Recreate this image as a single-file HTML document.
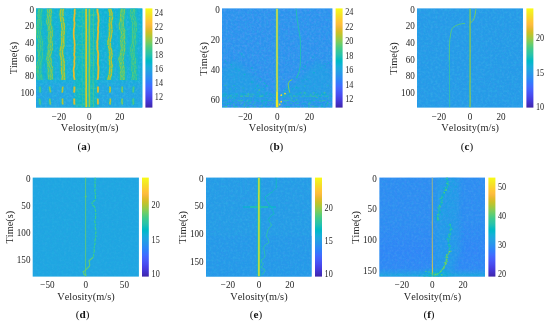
<!DOCTYPE html>
<html lang="en"><head><meta charset="utf-8"><title>Figure</title>
<style>html,body{margin:0;padding:0;background:#fff;}svg{display:block;}text{font-kerning:none;}.t{font-family:"Liberation Serif","DejaVu Serif",serif;font-size:10.4px;fill:#262626;}.cbt{font-family:"Liberation Serif","DejaVu Serif",serif;font-size:9.3px;fill:#262626;}.l{font-family:"Liberation Serif","DejaVu Serif",serif;font-size:10.3px;fill:#262626;}.c{font-family:"Liberation Serif","DejaVu Serif",serif;font-size:11.2px;fill:#111;}</style></head><body>
<svg width="550" height="325" viewBox="0 0 550 325">
<defs>
<linearGradient id="pg" x1="0" y1="1" x2="0" y2="0"><stop offset="0.0000" stop-color="#3e26a8"/><stop offset="0.0159" stop-color="#402ab4"/><stop offset="0.0317" stop-color="#422ec0"/><stop offset="0.0476" stop-color="#4332cb"/><stop offset="0.0635" stop-color="#4537d5"/><stop offset="0.0794" stop-color="#463cde"/><stop offset="0.0952" stop-color="#4741e5"/><stop offset="0.1111" stop-color="#4747eb"/><stop offset="0.1270" stop-color="#484df0"/><stop offset="0.1429" stop-color="#4852f4"/><stop offset="0.1587" stop-color="#4758f8"/><stop offset="0.1746" stop-color="#465efb"/><stop offset="0.1905" stop-color="#4563fd"/><stop offset="0.2063" stop-color="#4269fe"/><stop offset="0.2222" stop-color="#3e6fff"/><stop offset="0.2381" stop-color="#3875fe"/><stop offset="0.2540" stop-color="#327cfc"/><stop offset="0.2698" stop-color="#2f81fa"/><stop offset="0.2857" stop-color="#2e87f7"/><stop offset="0.3016" stop-color="#2d8cf3"/><stop offset="0.3175" stop-color="#2b91ef"/><stop offset="0.3333" stop-color="#2797eb"/><stop offset="0.3492" stop-color="#259be8"/><stop offset="0.3651" stop-color="#23a0e5"/><stop offset="0.3810" stop-color="#20a5e3"/><stop offset="0.3968" stop-color="#1ca9df"/><stop offset="0.4127" stop-color="#18addb"/><stop offset="0.4286" stop-color="#12b1d6"/><stop offset="0.4444" stop-color="#08b5d0"/><stop offset="0.4603" stop-color="#01b8ca"/><stop offset="0.4762" stop-color="#02bac3"/><stop offset="0.4921" stop-color="#0bbdbd"/><stop offset="0.5079" stop-color="#19bfb6"/><stop offset="0.5238" stop-color="#24c1ae"/><stop offset="0.5397" stop-color="#2cc4a7"/><stop offset="0.5556" stop-color="#31c69f"/><stop offset="0.5714" stop-color="#37c897"/><stop offset="0.5873" stop-color="#3fca8e"/><stop offset="0.6032" stop-color="#4acb84"/><stop offset="0.6190" stop-color="#57cc7a"/><stop offset="0.6349" stop-color="#64cd6f"/><stop offset="0.6508" stop-color="#72cd64"/><stop offset="0.6667" stop-color="#81cc59"/><stop offset="0.6825" stop-color="#8fcb4e"/><stop offset="0.6984" stop-color="#9dc943"/><stop offset="0.7143" stop-color="#abc739"/><stop offset="0.7302" stop-color="#b9c431"/><stop offset="0.7460" stop-color="#c5c22a"/><stop offset="0.7619" stop-color="#d1bf27"/><stop offset="0.7778" stop-color="#dcbd29"/><stop offset="0.7937" stop-color="#e6bb2d"/><stop offset="0.8095" stop-color="#f0ba36"/><stop offset="0.8254" stop-color="#f8ba3d"/><stop offset="0.8413" stop-color="#febe3c"/><stop offset="0.8571" stop-color="#fec338"/><stop offset="0.8730" stop-color="#fec934"/><stop offset="0.8889" stop-color="#fccf30"/><stop offset="0.9048" stop-color="#fad62d"/><stop offset="0.9206" stop-color="#f7dc2a"/><stop offset="0.9365" stop-color="#f5e327"/><stop offset="0.9524" stop-color="#f5e924"/><stop offset="0.9683" stop-color="#f6ef20"/><stop offset="0.9841" stop-color="#f7f51b"/><stop offset="1.0000" stop-color="#f9fb15"/></linearGradient>
<filter id="b1" x="-20%" y="-5%" width="140%" height="110%"><feGaussianBlur stdDeviation="0.45"/></filter>
<filter id="b2" x="-20%" y="-5%" width="140%" height="110%"><feGaussianBlur stdDeviation="0.8"/></filter>
<filter id="b3" x="-20%" y="-20%" width="140%" height="140%"><feGaussianBlur stdDeviation="2.5"/></filter>
<filter id="nz" x="0" y="0" width="100%" height="100%"><feTurbulence type="fractalNoise" baseFrequency="0.42" numOctaves="2" seed="3"/><feColorMatrix type="matrix" values="0 0 0 0 0.1  0 0 0 0 0.85  0 0 0 0 0.8  1.6 0 0 0 -0.62"/></filter>
<filter id="nd" x="0" y="0" width="100%" height="100%"><feTurbulence type="fractalNoise" baseFrequency="0.42" numOctaves="2" seed="11"/><feColorMatrix type="matrix" values="0 0 0 0 0.2  0 0 0 0 0.3  0 0 0 0 0.95  0 1.6 0 0 -0.62"/></filter>
</defs>
<clipPath id="cp_a"><rect x="36.00" y="8.40" width="106.40" height="99.20"/></clipPath>
<rect x="36.00" y="8.40" width="106.40" height="99.20" fill="#1caadf"/>
<rect x="145.40" y="8.40" width="7.00" height="99.20" fill="url(#pg)"/>
<g clip-path="url(#cp_a)">
<linearGradient id="ga" x1="0" y1="0" x2="0" y2="1"><stop offset="0" stop-color="#0eb3d4"/><stop offset="0.72" stop-color="#17aeda"/><stop offset="0.8" stop-color="#1fa6e2"/><stop offset="1" stop-color="#1fa6e2"/></linearGradient>
<rect x="36" y="8.40" width="106.4" height="99.20" fill="url(#ga)"/>
<rect x="74" y="8.4" width="24" height="99.2" fill="#07bcc0" opacity="0.85" filter="url(#b2)"/>
<rect x="76.4" y="40.4" width="10.9" height="0.9" fill="#25c2ae" opacity="0.54"/>
<rect x="74.9" y="44.5" width="9.6" height="0.9" fill="#23c1af" opacity="0.50"/>
<rect x="75.5" y="15.8" width="8.8" height="0.9" fill="#3eca8f" opacity="0.39"/>
<rect x="84.0" y="30.7" width="13.5" height="0.9" fill="#35c79a" opacity="0.49"/>
<rect x="74.7" y="103.7" width="12.7" height="0.9" fill="#2dc4a5" opacity="0.40"/>
<rect x="78.9" y="20.4" width="12.3" height="0.9" fill="#29c3aa" opacity="0.55"/>
<rect x="80.0" y="71.0" width="9.9" height="0.9" fill="#25c2ae" opacity="0.37"/>
<rect x="84.9" y="29.0" width="8.8" height="0.9" fill="#2ec4a4" opacity="0.55"/>
<rect x="78.8" y="53.0" width="12.1" height="0.9" fill="#39c994" opacity="0.44"/>
<rect x="82.4" y="64.7" width="12.9" height="0.9" fill="#3bc993" opacity="0.45"/>
<rect x="75.9" y="104.1" width="8.8" height="0.9" fill="#3cc992" opacity="0.40"/>
<rect x="74.6" y="56.4" width="11.0" height="0.9" fill="#3cc991" opacity="0.55"/>
<rect x="79.0" y="93.9" width="11.3" height="0.9" fill="#36c799" opacity="0.55"/>
<rect x="87.4" y="53.3" width="10.6" height="0.9" fill="#32c69e" opacity="0.58"/>
<rect x="85.2" y="14.9" width="10.8" height="0.9" fill="#47cb87" opacity="0.64"/>
<rect x="80.2" y="36.6" width="11.0" height="0.9" fill="#22c1af" opacity="0.51"/>
<rect x="75.9" y="25.3" width="5.5" height="0.9" fill="#3cc991" opacity="0.40"/>
<rect x="80.3" y="33.0" width="12.8" height="0.9" fill="#25c2ad" opacity="0.51"/>
<rect x="88.1" y="62.3" width="9.9" height="0.9" fill="#40ca8d" opacity="0.45"/>
<rect x="79.7" y="49.3" width="13.0" height="0.9" fill="#46cb88" opacity="0.40"/>
<rect x="77.7" y="26.1" width="7.1" height="0.9" fill="#33c69e" opacity="0.56"/>
<rect x="74.1" y="34.5" width="8.8" height="0.9" fill="#2fc5a2" opacity="0.55"/>
<rect x="85.0" y="101.5" width="9.6" height="0.9" fill="#36c898" opacity="0.59"/>
<rect x="88.4" y="14.2" width="9.6" height="0.9" fill="#41ca8c" opacity="0.63"/>
<rect x="80.4" y="47.1" width="5.9" height="0.9" fill="#37c897" opacity="0.37"/>
<rect x="77.3" y="15.5" width="6.5" height="0.9" fill="#2ec5a3" opacity="0.37"/>
<rect x="76.4" y="9.0" width="5.9" height="0.9" fill="#2fc5a3" opacity="0.36"/>
<rect x="83.8" y="93.8" width="6.3" height="0.9" fill="#2cc4a7" opacity="0.47"/>
<rect x="76.0" y="44.3" width="12.6" height="0.9" fill="#47cb87" opacity="0.51"/>
<rect x="75.4" y="55.9" width="5.9" height="0.9" fill="#2fc5a3" opacity="0.44"/>
<rect x="76.6" y="89.4" width="5.2" height="0.9" fill="#45cb89" opacity="0.53"/>
<rect x="82.7" y="23.2" width="5.2" height="0.9" fill="#34c79c" opacity="0.69"/>
<rect x="85.1" y="92.7" width="7.4" height="0.9" fill="#2fc5a2" opacity="0.41"/>
<rect x="82.5" y="83.9" width="12.0" height="0.9" fill="#2ec5a4" opacity="0.43"/>
<rect x="89.8" y="87.7" width="8.2" height="0.9" fill="#3eca90" opacity="0.64"/>
<rect x="77.6" y="80.8" width="9.7" height="0.9" fill="#2fc5a3" opacity="0.36"/>
<rect x="78.5" y="11.7" width="7.3" height="0.9" fill="#39c895" opacity="0.68"/>
<rect x="89.0" y="52.4" width="9.0" height="0.9" fill="#45cb88" opacity="0.48"/>
<rect x="36.00" y="8.40" width="106.40" height="99.20" filter="url(#nz)" opacity="0.30"/>
<rect x="36.00" y="8.40" width="106.40" height="99.20" filter="url(#nd)" opacity="0.25"/>
<g filter="url(#b1)">
<path d="M40.3 8.4 L40.1 9.7 L39.9 11.0 L39.9 12.3 L39.9 13.6 L39.9 14.9 L39.8 16.2 L39.8 17.5 L39.9 18.8 L39.6 20.1 L39.7 21.4 L39.8 22.7 L39.7 24.0 L39.5 25.3 L39.2 26.6 L38.8 27.9 L38.8 29.2 L38.5 30.5 L38.7 31.8 L38.9 33.1 L38.9 34.4 L39.0 35.7 L39.5 37.0 L39.8 38.3 L39.9 39.6 L39.9 40.9 L40.0 42.2 L40.4 43.5 L40.5 44.8 L40.2 46.1 L40.3 47.4 L40.4 48.7 L40.3 50.0 L40.1 51.3 L40.2 52.6 L40.1 53.9 L40.1 55.2 L40.5 56.5 L40.5 57.8 L40.4 59.1 L40.4 60.4 L40.0 61.7 L39.9 63.0 L39.6 64.3 L39.1 65.6 L38.8 66.9 L38.6 68.2 L38.6 69.5 L38.8 70.8 L38.8 72.1 L39.1 73.4 L39.2 74.7 L39.7 76.0 L39.8 77.3 L39.9 78.6 L40.1 79.9" fill="none" stroke="#12beb9" stroke-width="8.80" stroke-linecap="butt" stroke-linejoin="round" opacity="0.50"/>
<path d="M40.7 8.4 L40.3 9.7 L40.4 11.0 L40.1 12.3 L39.9 13.6 L39.8 14.9 L39.4 16.2 L39.5 17.5 L39.4 18.8 L39.3 20.1 L39.7 21.4 L39.4 22.7 L39.4 24.0 L39.4 25.3 L39.2 26.6 L38.8 27.9 L38.7 29.2 L38.6 30.5 L38.7 31.8 L38.4 33.1 L38.8 34.4 L38.9 35.7 L39.1 37.0 L39.7 38.3 L40.0 39.6 L40.2 40.9 L40.5 42.2 L40.7 43.5 L40.5 44.8 L40.4 46.1 L40.3 47.4 L40.2 48.7 L40.3 50.0 L40.2 51.3 L40.2 52.6 L40.3 53.9 L40.6 55.2 L40.7 56.5 L40.8 57.8 L40.8 59.1 L40.2 60.4 L40.0 61.7 L40.0 63.0 L39.8 64.3 L39.0 65.6 L38.6 66.9 L38.6 68.2 L38.4 69.5 L38.5 70.8 L38.5 72.1 L39.1 73.4 L39.6 74.7 L40.0 76.0 L39.8 77.3 L40.1 78.6 L40.2 79.9" fill="none" stroke="#21c1b0" stroke-width="4.80" stroke-linecap="butt" stroke-linejoin="round" opacity="0.80"/>
<path d="M38.2 8.4 L38.7 9.7 L38.9 11.0 L38.1 12.3 L38.5 13.6 L38.0 14.9 L37.9 16.2 L38.4 17.5 L38.5 18.8 L37.8 20.1 L37.8 21.4 L37.8 22.7 L37.5 24.0 L37.1 25.3 L36.9 26.6 L37.1 27.9 L36.4 29.2 L36.6 30.5 L36.6 31.8 L36.2 33.1 L36.5 34.4 L37.2 35.7 L37.5 37.0 L37.3 38.3 L38.4 39.6 L38.8 40.9 L39.2 42.2 L38.4 43.5 L38.2 44.8 L37.8 46.1 L38.4 47.4 L38.1 48.7 L37.8 50.0 L38.0 51.3 L38.7 52.6 L38.9 53.9 L38.5 55.2 L38.2 56.5 L38.9 57.8 L38.7 59.1 L38.7 60.4 L37.8 61.7 L37.3 63.0 L37.5 64.3 L37.2 65.6 L36.6 66.9 L37.2 68.2 L37.2 69.5 L37.5 70.8 L36.9 72.1 L37.7 73.4 L37.3 74.7 L38.1 76.0 L38.1 77.3 L38.0 78.6 L38.2 79.9" fill="none" stroke="#66cd6d" stroke-width="1.00" stroke-linecap="butt" stroke-linejoin="round" opacity="0.90" stroke-dasharray="5.1 0.5 4.6 0.5"/>
<path d="M40.0 8.4 L39.7 9.7 L39.3 11.0 L39.2 12.3 L39.3 13.6 L39.3 14.9 L39.8 16.2 L39.5 17.5 L39.6 18.8 L39.3 20.1 L39.4 21.4 L39.0 22.7 L38.9 24.0 L38.5 25.3 L39.0 26.6 L38.9 27.9 L38.4 29.2 L38.4 30.5 L38.9 31.8 L38.4 33.1 L39.0 34.4 L39.1 35.7 L39.3 37.0 L40.0 38.3 L40.0 39.6 L40.2 40.9 L40.5 42.2 L41.0 43.5 L40.4 44.8 L40.7 46.1 L40.6 47.4 L40.5 48.7 L40.2 50.0 L40.0 51.3 L39.6 52.6 L39.6 53.9 L39.6 55.2 L40.3 56.5 L40.1 57.8 L39.8 59.1 L39.5 60.4 L40.0 61.7 L40.1 63.0 L39.8 64.3 L39.1 65.6 L38.6 66.9 L38.4 68.2 L38.5 69.5 L38.3 70.8 L38.7 72.1 L38.8 73.4 L39.8 74.7 L40.3 76.0 L40.2 77.3 L39.8 78.6 L40.5 79.9" fill="none" stroke="#51cc7e" stroke-width="1.00" stroke-linecap="butt" stroke-linejoin="round" opacity="0.90" stroke-dasharray="5.4 0.4 4.1 0.7"/>
<path d="M42.2 8.4 L41.7 9.7 L41.7 11.0 L41.1 12.3 L41.1 13.6 L40.8 14.9 L41.1 16.2 L40.8 17.5 L40.7 18.8 L41.0 20.1 L41.0 21.4 L41.3 22.7 L41.3 24.0 L41.4 25.3 L41.2 26.6 L41.1 27.9 L41.1 29.2 L40.5 30.5 L40.2 31.8 L40.9 33.1 L40.4 34.4 L41.0 35.7 L41.4 37.0 L41.0 38.3 L41.9 39.6 L42.5 40.9 L42.5 42.2 L42.6 43.5 L42.7 44.8 L41.9 46.1 L42.0 47.4 L41.9 48.7 L42.3 50.0 L42.4 51.3 L42.6 52.6 L42.4 53.9 L42.7 55.2 L42.7 56.5 L42.6 57.8 L42.0 59.1 L41.4 60.4 L41.1 61.7 L41.0 63.0 L40.6 64.3 L41.0 65.6 L40.8 66.9 L40.8 68.2 L40.8 69.5 L40.9 70.8 L40.9 72.1 L40.5 73.4 L41.3 74.7 L41.8 76.0 L41.8 77.3 L41.9 78.6 L42.1 79.9" fill="none" stroke="#4acb85" stroke-width="1.00" stroke-linecap="butt" stroke-linejoin="round" opacity="0.90" stroke-dasharray="6.9 0.6 3.2 0.6"/>
<path d="M40.0 86.6 L39.8 88.1 L39.9 89.6 L40.1 91.1 L40.0 92.6" fill="none" stroke="#12beb9" stroke-width="3.60" stroke-linecap="butt" stroke-linejoin="round" opacity="0.50"/>
<path d="M39.8 86.6 L39.9 87.6 L40.0 88.6 L40.1 89.6 L40.0 90.6 L40.0 91.6 L39.7 92.6" fill="none" stroke="#58cc79" stroke-width="1.60" stroke-linecap="butt" stroke-linejoin="round" opacity="0.80"/>
<path d="M39.8 98.6 L39.8 100.1 L39.9 101.6 L39.8 103.1 L39.9 104.6" fill="none" stroke="#12beb9" stroke-width="3.60" stroke-linecap="butt" stroke-linejoin="round" opacity="0.50"/>
<path d="M39.6 98.6 L39.5 99.6 L39.6 100.6 L39.9 101.6 L40.0 102.6 L40.0 103.6 L39.8 104.6" fill="none" stroke="#58cc79" stroke-width="1.60" stroke-linecap="butt" stroke-linejoin="round" opacity="0.80"/>
<path d="M49.7 8.4 L49.7 9.7 L49.5 11.0 L49.7 12.3 L49.4 13.6 L49.5 14.9 L49.4 16.2 L48.8 17.5 L48.7 18.8 L48.8 20.1 L49.0 21.4 L49.0 22.7 L49.0 24.0 L49.2 25.3 L49.8 26.6 L49.9 27.9 L50.2 29.2 L50.3 30.5 L50.5 31.8 L50.7 33.1 L50.4 34.4 L50.5 35.7 L50.4 37.0 L50.5 38.3 L50.4 39.6 L50.1 40.9 L50.4 42.2 L50.3 43.5 L50.1 44.8 L50.0 46.1 L50.2 47.4 L50.1 48.7 L49.9 50.0 L49.6 51.3 L49.4 52.6 L49.1 53.9 L49.1 55.2 L48.7 56.5 L48.8 57.8 L49.0 59.1 L48.8 60.4 L49.3 61.7 L49.6 63.0 L49.9 64.3 L49.9 65.6 L50.0 66.9 L50.1 68.2 L50.5 69.5 L50.4 70.8 L50.2 72.1 L50.2 73.4 L50.1 74.7 L50.0 76.0 L50.0 77.3 L50.5 78.6 L50.5 79.9" fill="none" stroke="#12beb9" stroke-width="8.80" stroke-linecap="butt" stroke-linejoin="round" opacity="0.50"/>
<path d="M50.0 8.4 L49.7 9.7 L49.5 11.0 L49.5 12.3 L49.2 13.6 L49.1 14.9 L49.3 16.2 L49.3 17.5 L49.2 18.8 L49.0 20.1 L49.2 21.4 L49.4 22.7 L49.3 24.0 L49.6 25.3 L49.5 26.6 L50.1 27.9 L50.2 29.2 L50.6 30.5 L50.7 31.8 L50.5 33.1 L50.2 34.4 L50.6 35.7 L50.1 37.0 L50.1 38.3 L50.0 39.6 L50.0 40.9 L50.3 42.2 L50.7 43.5 L50.3 44.8 L50.5 46.1 L50.2 47.4 L50.2 48.7 L50.0 50.0 L49.5 51.3 L49.2 52.6 L48.9 53.9 L49.2 55.2 L48.9 56.5 L48.6 57.8 L49.0 59.1 L49.4 60.4 L49.3 61.7 L49.2 63.0 L49.3 64.3 L49.5 65.6 L49.8 66.9 L49.8 68.2 L49.9 69.5 L49.9 70.8 L50.1 72.1 L50.5 73.4 L50.5 74.7 L50.3 76.0 L50.3 77.3 L50.5 78.6 L50.6 79.9" fill="none" stroke="#41ca8c" stroke-width="4.80" stroke-linecap="butt" stroke-linejoin="round" opacity="0.80"/>
<path d="M47.7 8.4 L47.3 9.7 L47.3 11.0 L48.1 12.3 L47.3 13.6 L47.3 14.9 L47.4 16.2 L47.6 17.5 L46.8 18.8 L46.6 20.1 L46.5 21.4 L46.7 22.7 L47.0 24.0 L48.0 25.3 L48.5 26.6 L48.9 27.9 L48.2 29.2 L47.9 30.5 L48.7 31.8 L49.2 33.1 L48.9 34.4 L48.8 35.7 L48.0 37.0 L48.1 38.3 L48.7 39.6 L48.9 40.9 L49.1 42.2 L49.3 43.5 L48.6 44.8 L48.1 46.1 L47.9 47.4 L48.2 48.7 L48.4 50.0 L48.6 51.3 L48.3 52.6 L47.9 53.9 L47.7 55.2 L47.2 56.5 L47.1 57.8 L46.5 59.1 L47.3 60.4 L47.1 61.7 L48.0 63.0 L48.2 64.3 L48.0 65.6 L47.8 66.9 L47.9 68.2 L48.4 69.5 L48.7 70.8 L48.1 72.1 L47.7 73.4 L48.1 74.7 L48.4 76.0 L48.4 77.3 L48.3 78.6 L48.8 79.9" fill="none" stroke="#84cc56" stroke-width="1.00" stroke-linecap="butt" stroke-linejoin="round" opacity="0.90" stroke-dasharray="5.2 0.7 5.9 0.8"/>
<path d="M50.2 8.4 L49.9 9.7 L49.4 11.0 L49.2 12.3 L49.8 13.6 L49.7 14.9 L49.1 16.2 L48.3 17.5 L48.5 18.8 L48.8 20.1 L48.7 21.4 L48.5 22.7 L49.1 24.0 L49.9 25.3 L49.6 26.6 L49.4 27.9 L49.8 29.2 L50.1 30.5 L50.6 31.8 L50.2 33.1 L50.7 34.4 L50.8 35.7 L50.5 37.0 L50.0 38.3 L50.6 39.6 L50.2 40.9 L50.6 42.2 L50.1 43.5 L49.9 44.8 L50.5 46.1 L50.1 47.4 L50.7 48.7 L50.3 50.0 L49.5 51.3 L49.1 52.6 L49.0 53.9 L49.1 55.2 L49.4 56.5 L48.6 57.8 L48.6 59.1 L48.5 60.4 L49.5 61.7 L49.1 63.0 L49.0 64.3 L49.1 65.6 L49.6 66.9 L50.5 68.2 L50.8 69.5 L50.8 70.8 L51.1 72.1 L51.1 73.4 L50.4 74.7 L50.0 76.0 L50.8 77.3 L51.0 78.6 L50.3 79.9" fill="none" stroke="#9cc944" stroke-width="1.00" stroke-linecap="butt" stroke-linejoin="round" opacity="0.90" stroke-dasharray="5.5 0.6 4.0 0.5"/>
<path d="M50.9 8.4 L51.0 9.7 L51.1 11.0 L51.8 12.3 L51.0 13.6 L51.5 14.9 L50.7 16.2 L50.5 17.5 L50.9 18.8 L51.0 20.1 L50.7 21.4 L50.2 22.7 L50.6 24.0 L50.9 25.3 L51.9 26.6 L51.6 27.9 L51.8 29.2 L52.6 30.5 L51.9 31.8 L52.1 33.1 L52.6 34.4 L52.7 35.7 L51.8 37.0 L51.3 38.3 L51.1 39.6 L52.1 40.9 L51.8 42.2 L52.3 43.5 L52.7 44.8 L52.2 46.1 L51.9 47.4 L52.5 48.7 L52.2 50.0 L51.5 51.3 L51.6 52.6 L50.9 53.9 L50.5 55.2 L49.9 56.5 L50.6 57.8 L51.1 59.1 L51.1 60.4 L51.7 61.7 L50.9 63.0 L51.0 64.3 L51.5 65.6 L52.3 66.9 L52.8 68.2 L52.3 69.5 L51.9 70.8 L51.9 72.1 L51.9 73.4 L52.5 74.7 L51.9 76.0 L52.4 77.3 L52.7 78.6 L53.0 79.9" fill="none" stroke="#a0c941" stroke-width="1.00" stroke-linecap="butt" stroke-linejoin="round" opacity="0.90" stroke-dasharray="6.4 0.6 4.0 0.6"/>
<path d="M50.1 86.6 L49.9 88.1 L49.8 89.6 L50.0 91.1 L49.9 92.6" fill="none" stroke="#12beb9" stroke-width="3.60" stroke-linecap="butt" stroke-linejoin="round" opacity="0.50"/>
<path d="M49.7 86.6 L49.6 87.6 L49.9 88.6 L49.9 89.6 L50.3 90.6 L50.4 91.6 L50.4 92.6" fill="none" stroke="#96ca48" stroke-width="1.60" stroke-linecap="butt" stroke-linejoin="round" opacity="0.80"/>
<path d="M49.9 98.6 L49.8 100.1 L49.7 101.6 L49.8 103.1 L50.0 104.6" fill="none" stroke="#12beb9" stroke-width="3.60" stroke-linecap="butt" stroke-linejoin="round" opacity="0.50"/>
<path d="M50.0 98.6 L49.8 99.6 L49.9 100.6 L50.0 101.6 L50.1 102.6 L50.2 103.6 L50.3 104.6" fill="none" stroke="#96ca48" stroke-width="1.60" stroke-linecap="butt" stroke-linejoin="round" opacity="0.80"/>
<path d="M61.9 8.4 L62.0 9.7 L61.7 11.0 L61.6 12.3 L61.4 13.6 L61.5 14.9 L61.4 16.2 L61.5 17.5 L61.7 18.8 L61.9 20.1 L62.5 21.4 L62.8 22.7 L63.0 24.0 L63.1 25.3 L63.4 26.6 L63.3 27.9 L63.1 29.2 L63.2 30.5 L63.1 31.8 L63.1 33.1 L62.8 34.4 L62.8 35.7 L62.9 37.0 L63.0 38.3 L63.2 39.6 L62.8 40.9 L62.8 42.2 L62.6 43.5 L62.4 44.8 L62.4 46.1 L62.1 47.4 L62.0 48.7 L61.6 50.0 L61.6 51.3 L61.4 52.6 L61.4 53.9 L61.7 55.2 L62.0 56.5 L62.0 57.8 L62.4 59.1 L62.6 60.4 L62.7 61.7 L62.8 63.0 L62.8 64.3 L62.7 65.6 L62.7 66.9 L62.8 68.2 L62.9 69.5 L62.8 70.8 L62.7 72.1 L62.9 73.4 L63.2 74.7 L63.2 76.0 L63.3 77.3 L63.3 78.6 L63.4 79.9" fill="none" stroke="#12beb9" stroke-width="7.40" stroke-linecap="butt" stroke-linejoin="round" opacity="0.50"/>
<path d="M62.1 8.4 L61.7 9.7 L61.4 11.0 L61.3 12.3 L61.4 13.6 L61.5 14.9 L61.2 16.2 L61.3 17.5 L61.8 18.8 L62.1 20.1 L62.3 21.4 L62.6 22.7 L63.2 24.0 L63.1 25.3 L63.3 26.6 L63.2 27.9 L63.1 29.2 L63.3 30.5 L63.3 31.8 L63.0 33.1 L62.7 34.4 L62.9 35.7 L62.7 37.0 L62.5 38.3 L63.0 39.6 L62.9 40.9 L63.1 42.2 L62.8 43.5 L62.8 44.8 L62.4 46.1 L61.9 47.4 L61.4 48.7 L61.5 50.0 L61.5 51.3 L61.7 52.6 L61.3 53.9 L61.6 55.2 L61.8 56.5 L62.1 57.8 L62.1 59.1 L62.4 60.4 L62.7 61.7 L63.1 63.0 L62.8 64.3 L62.9 65.6 L63.0 66.9 L63.2 68.2 L62.8 69.5 L62.7 70.8 L63.1 72.1 L63.5 73.4 L63.4 74.7 L63.2 76.0 L63.6 77.3 L63.4 78.6 L63.6 79.9" fill="none" stroke="#68cd6b" stroke-width="3.68" stroke-linecap="butt" stroke-linejoin="round" opacity="0.80"/>
<path d="M61.0 8.4 L61.1 9.7 L60.4 11.0 L60.6 12.3 L60.1 13.6 L60.1 14.9 L60.6 16.2 L60.9 17.5 L60.6 18.8 L60.6 20.1 L61.0 21.4 L61.5 22.7 L61.7 24.0 L61.6 25.3 L61.6 26.6 L62.1 27.9 L62.4 29.2 L61.7 30.5 L61.7 31.8 L61.9 33.1 L61.3 34.4 L61.8 35.7 L61.4 37.0 L61.7 38.3 L61.8 39.6 L61.9 40.9 L61.6 42.2 L61.5 43.5 L61.4 44.8 L61.1 46.1 L61.0 47.4 L60.7 48.7 L60.4 50.0 L59.8 51.3 L60.1 52.6 L60.2 53.9 L60.2 55.2 L60.8 56.5 L61.3 57.8 L61.3 59.1 L61.2 60.4 L61.5 61.7 L61.3 63.0 L61.2 64.3 L61.5 65.6 L61.2 66.9 L61.4 68.2 L61.6 69.5 L61.2 70.8 L61.7 72.1 L61.5 73.4 L62.1 74.7 L62.5 76.0 L62.4 77.3 L61.9 78.6 L62.0 79.9" fill="none" stroke="#bac430" stroke-width="1.20" stroke-linecap="butt" stroke-linejoin="round" opacity="0.95" stroke-dasharray="7.8 0.6 5.6 1.2"/>
<path d="M63.5 8.4 L63.5 9.7 L62.8 11.0 L63.1 12.3 L62.8 13.6 L63.1 14.9 L63.3 16.2 L62.7 17.5 L63.3 18.8 L63.8 20.1 L63.4 21.4 L63.7 22.7 L64.3 24.0 L64.1 25.3 L64.7 26.6 L64.3 27.9 L64.6 29.2 L64.0 30.5 L64.0 31.8 L64.4 33.1 L63.8 34.4 L63.7 35.7 L63.8 37.0 L63.8 38.3 L63.5 39.6 L63.5 40.9 L63.4 42.2 L64.1 43.5 L64.0 44.8 L64.0 46.1 L63.1 47.4 L63.2 48.7 L62.5 50.0 L62.5 51.3 L62.6 52.6 L62.5 53.9 L63.1 55.2 L63.2 56.5 L63.4 57.8 L64.0 59.1 L63.6 60.4 L64.3 61.7 L64.4 63.0 L64.1 64.3 L64.4 65.6 L64.0 66.9 L64.5 68.2 L64.3 69.5 L64.0 70.8 L64.4 72.1 L64.3 73.4 L64.1 74.7 L64.6 76.0 L64.2 77.3 L64.7 78.6 L64.3 79.9" fill="none" stroke="#c0c32d" stroke-width="1.20" stroke-linecap="butt" stroke-linejoin="round" opacity="0.95" stroke-dasharray="7.9 0.9 5.0 0.7"/>
<path d="M62.5 86.6 L62.4 88.1 L62.4 89.6 L62.5 91.1 L62.5 92.6" fill="none" stroke="#12beb9" stroke-width="3.60" stroke-linecap="butt" stroke-linejoin="round" opacity="0.50"/>
<path d="M62.6 86.6 L62.8 87.6 L62.5 88.6 L62.4 89.6 L62.6 90.6 L62.3 91.6 L62.2 92.6" fill="none" stroke="#c1c32d" stroke-width="1.60" stroke-linecap="butt" stroke-linejoin="round" opacity="0.95"/>
<path d="M62.6 98.6 L62.5 100.1 L62.5 101.6 L62.4 103.1 L62.5 104.6" fill="none" stroke="#12beb9" stroke-width="3.60" stroke-linecap="butt" stroke-linejoin="round" opacity="0.50"/>
<path d="M62.7 98.6 L62.4 99.6 L62.6 100.6 L62.6 101.6 L62.4 102.6 L62.8 103.6 L62.5 104.6" fill="none" stroke="#c1c32d" stroke-width="1.60" stroke-linecap="butt" stroke-linejoin="round" opacity="0.95"/>
<path d="M74.7 8.4 L74.8 9.7 L74.8 11.0 L74.7 12.3 L74.5 13.6 L74.4 14.9 L74.2 16.2 L74.3 17.5 L74.3 18.8 L74.3 20.1 L74.3 21.4 L74.3 22.7 L74.4 24.0 L74.3 25.3 L74.2 26.6 L74.1 27.9 L73.9 29.2 L73.8 30.5 L73.6 31.8 L73.5 33.1 L73.5 34.4 L73.6 35.7 L73.6 37.0 L73.8 38.3 L74.1 39.6 L74.2 40.9 L74.3 42.2 L74.5 43.5 L74.6 44.8 L74.6 46.1 L74.7 47.4 L74.5 48.7 L74.5 50.0 L74.4 51.3 L74.4 52.6 L74.5 53.9 L74.6 55.2 L74.6 56.5 L74.6 57.8 L74.7 59.1 L74.7 60.4 L74.6 61.7 L74.6 63.0 L74.4 64.3 L74.2 65.6 L73.9 66.9 L73.8 68.2 L73.6 69.5 L73.6 70.8 L73.6 72.1 L73.7 73.4 L73.8 74.7 L74.0 76.0 L74.0 77.3 L74.2 78.6 L74.2 79.9" fill="none" stroke="#12beb9" stroke-width="4.55" stroke-linecap="butt" stroke-linejoin="round" opacity="0.50"/>
<path d="M74.9 8.4 L74.8 9.7 L74.6 11.0 L74.7 12.3 L74.8 13.6 L74.4 14.9 L74.5 16.2 L74.2 17.5 L74.1 18.8 L74.1 20.1 L74.3 21.4 L74.6 22.7 L74.5 24.0 L74.3 25.3 L74.4 26.6 L74.1 27.9 L73.8 29.2 L73.9 30.5 L73.8 31.8 L73.7 33.1 L73.7 34.4 L73.9 35.7 L73.8 37.0 L74.1 38.3 L74.2 39.6 L74.5 40.9 L74.4 42.2 L74.6 43.5 L74.7 44.8 L74.6 46.1 L74.4 47.4 L74.6 48.7 L74.3 50.0 L74.6 51.3 L74.4 52.6 L74.2 53.9 L74.2 55.2 L74.6 56.5 L74.6 57.8 L74.5 59.1 L74.3 60.4 L74.2 61.7 L74.5 63.0 L74.4 64.3 L74.3 65.6 L74.2 66.9 L73.7 68.2 L73.7 69.5 L73.6 70.8 L73.8 72.1 L73.9 73.4 L74.0 74.7 L73.8 76.0 L74.2 77.3 L74.4 78.6 L74.6 79.9" fill="none" stroke="#e7bb2e" stroke-width="1.75" stroke-linecap="butt" stroke-linejoin="round"/>
<path d="M74.2 86.6 L74.2 88.1 L74.2 89.6 L74.2 91.1 L74.3 92.6" fill="none" stroke="#12beb9" stroke-width="3.60" stroke-linecap="butt" stroke-linejoin="round" opacity="0.50"/>
<path d="M74.4 86.6 L74.4 87.6 L74.4 88.6 L74.4 89.6 L74.3 90.6 L74.2 91.6 L74.1 92.6" fill="none" stroke="#e7bb2e" stroke-width="1.90" stroke-linecap="butt" stroke-linejoin="round" opacity="0.95"/>
<path d="M74.3 98.6 L74.3 100.1 L74.3 101.6 L74.3 103.1 L74.2 104.6" fill="none" stroke="#12beb9" stroke-width="3.60" stroke-linecap="butt" stroke-linejoin="round" opacity="0.50"/>
<path d="M74.2 98.6 L74.2 99.6 L74.3 100.6 L74.3 101.6 L74.2 102.6 L74.4 103.6 L74.3 104.6" fill="none" stroke="#e7bb2e" stroke-width="1.90" stroke-linecap="butt" stroke-linejoin="round" opacity="0.95"/>
<path d="M97.4 8.4 L97.4 9.7 L97.5 11.0 L97.7 12.3 L97.9 13.6 L98.1 14.9 L98.3 16.2 L98.4 17.5 L98.4 18.8 L98.5 20.1 L98.4 21.4 L98.4 22.7 L98.3 24.0 L98.1 25.3 L98.1 26.6 L98.1 27.9 L98.2 29.2 L98.1 30.5 L98.1 31.8 L98.1 33.1 L98.2 34.4 L98.1 35.7 L98.0 37.0 L97.9 38.3 L97.8 39.6 L97.6 40.9 L97.5 42.2 L97.3 43.5 L97.2 44.8 L97.3 46.1 L97.3 47.4 L97.4 48.7 L97.6 50.0 L97.7 51.3 L97.9 52.6 L98.1 53.9 L98.2 55.2 L98.3 56.5 L98.2 57.8 L98.2 59.1 L98.1 60.4 L98.2 61.7 L98.1 63.0 L98.2 64.3 L98.1 65.6 L98.1 66.9 L98.2 68.2 L98.4 69.5 L98.4 70.8 L98.3 72.1 L98.4 73.4 L98.1 74.7 L98.0 76.0 L97.8 77.3 L97.7 78.6 L97.5 79.9" fill="none" stroke="#12beb9" stroke-width="4.70" stroke-linecap="butt" stroke-linejoin="round" opacity="0.50"/>
<path d="M97.5 8.4 L97.4 9.7 L97.5 11.0 L97.5 12.3 L98.0 13.6 L98.2 14.9 L98.4 16.2 L98.3 17.5 L98.4 18.8 L98.6 20.1 L98.6 21.4 L98.3 22.7 L98.2 24.0 L98.4 25.3 L98.1 26.6 L98.0 27.9 L97.9 29.2 L98.1 30.5 L98.3 31.8 L98.1 33.1 L97.9 34.4 L97.9 35.7 L97.8 37.0 L97.8 38.3 L97.6 39.6 L97.4 40.9 L97.2 42.2 L97.5 43.5 L97.4 44.8 L97.2 46.1 L97.5 47.4 L97.3 48.7 L97.5 50.0 L97.9 51.3 L98.1 52.6 L98.3 53.9 L98.2 55.2 L98.1 56.5 L98.2 57.8 L98.0 59.1 L97.9 60.4 L98.0 61.7 L97.8 63.0 L98.0 64.3 L98.2 65.6 L98.4 66.9 L98.4 68.2 L98.4 69.5 L98.4 70.8 L98.2 72.1 L98.3 73.4 L98.1 74.7 L98.1 76.0 L98.1 77.3 L97.7 78.6 L97.5 79.9" fill="none" stroke="#e7bb2e" stroke-width="1.90" stroke-linecap="butt" stroke-linejoin="round"/>
<path d="M97.9 86.6 L97.9 88.1 L97.9 89.6 L97.9 91.1 L98.0 92.6" fill="none" stroke="#12beb9" stroke-width="3.60" stroke-linecap="butt" stroke-linejoin="round" opacity="0.50"/>
<path d="M98.0 86.6 L98.0 87.6 L98.0 88.6 L98.0 89.6 L98.0 90.6 L97.9 91.6 L97.8 92.6" fill="none" stroke="#e7bb2e" stroke-width="1.90" stroke-linecap="butt" stroke-linejoin="round" opacity="0.95"/>
<path d="M97.9 98.6 L97.9 100.1 L97.9 101.6 L97.9 103.1 L97.9 104.6" fill="none" stroke="#12beb9" stroke-width="3.60" stroke-linecap="butt" stroke-linejoin="round" opacity="0.50"/>
<path d="M97.9 98.6 L97.8 99.6 L97.9 100.6 L97.9 101.6 L97.9 102.6 L97.9 103.6 L97.9 104.6" fill="none" stroke="#e7bb2e" stroke-width="1.90" stroke-linecap="butt" stroke-linejoin="round" opacity="0.95"/>
<path d="M109.5 8.4 L109.9 9.7 L110.4 11.0 L110.6 12.3 L110.8 13.6 L111.2 14.9 L111.0 16.2 L111.1 17.5 L111.0 18.8 L111.0 20.1 L111.0 21.4 L110.8 22.7 L110.5 24.0 L110.5 25.3 L110.5 26.6 L110.6 27.9 L110.6 29.2 L110.6 30.5 L110.7 31.8 L110.5 33.1 L110.3 34.4 L110.2 35.7 L109.8 37.0 L109.6 38.3 L109.3 39.6 L109.3 40.9 L109.0 42.2 L109.2 43.5 L109.2 44.8 L109.3 46.1 L109.5 47.4 L109.8 48.7 L110.0 50.0 L110.3 51.3 L110.5 52.6 L110.7 53.9 L110.6 55.2 L110.5 56.5 L110.4 57.8 L110.5 59.1 L110.7 60.4 L110.6 61.7 L110.5 63.0 L110.8 64.3 L110.8 65.6 L110.7 66.9 L110.7 68.2 L110.8 69.5 L110.8 70.8 L110.6 72.1 L110.2 73.4 L109.9 74.7 L109.5 76.0 L109.5 77.3 L109.1 78.6 L109.1 79.9" fill="none" stroke="#12beb9" stroke-width="7.20" stroke-linecap="butt" stroke-linejoin="round" opacity="0.50"/>
<path d="M109.9 8.4 L110.2 9.7 L110.3 11.0 L110.5 12.3 L110.8 13.6 L110.8 14.9 L111.2 16.2 L111.1 17.5 L111.3 18.8 L110.9 20.1 L110.7 21.4 L110.5 22.7 L110.4 24.0 L110.2 25.3 L110.1 26.6 L110.4 27.9 L110.4 29.2 L110.3 30.5 L110.3 31.8 L110.3 33.1 L110.2 34.4 L110.1 35.7 L109.9 37.0 L109.5 38.3 L109.6 39.6 L109.5 40.9 L109.0 42.2 L109.2 43.5 L109.5 44.8 L109.7 46.1 L109.6 47.4 L110.1 48.7 L110.4 50.0 L110.2 51.3 L110.2 52.6 L110.8 53.9 L110.8 55.2 L110.5 56.5 L110.3 57.8 L110.2 59.1 L110.2 60.4 L110.6 61.7 L110.5 63.0 L110.4 64.3 L110.9 65.6 L111.1 66.9 L110.8 68.2 L111.0 69.5 L110.8 70.8 L110.7 72.1 L110.4 73.4 L110.2 74.7 L109.9 76.0 L109.7 77.3 L109.1 78.6 L109.2 79.9" fill="none" stroke="#68cd6b" stroke-width="3.52" stroke-linecap="butt" stroke-linejoin="round" opacity="0.80"/>
<path d="M108.6 8.4 L109.1 9.7 L109.2 11.0 L109.8 12.3 L110.0 13.6 L109.8 14.9 L109.7 16.2 L109.6 17.5 L109.8 18.8 L109.3 20.1 L109.4 21.4 L109.1 22.7 L109.2 24.0 L109.3 25.3 L109.4 26.6 L109.7 27.9 L109.1 29.2 L109.6 30.5 L109.4 31.8 L109.4 33.1 L109.4 34.4 L109.4 35.7 L108.8 37.0 L108.4 38.3 L108.7 39.6 L107.8 40.9 L108.0 42.2 L108.1 43.5 L107.7 44.8 L108.2 46.1 L108.7 47.4 L109.4 48.7 L109.2 50.0 L109.8 51.3 L109.7 52.6 L109.7 53.9 L110.0 55.2 L109.3 56.5 L109.6 57.8 L109.6 59.1 L109.3 60.4 L109.7 61.7 L109.5 63.0 L109.6 64.3 L109.7 65.6 L110.0 66.9 L109.6 68.2 L109.6 69.5 L109.4 70.8 L109.4 72.1 L109.4 73.4 L108.7 74.7 L108.8 76.0 L108.3 77.3 L108.1 78.6 L107.7 79.9" fill="none" stroke="#bdc32f" stroke-width="1.20" stroke-linecap="butt" stroke-linejoin="round" opacity="0.95" stroke-dasharray="7.9 1.0 5.4 0.7"/>
<path d="M110.6 8.4 L110.8 9.7 L111.3 11.0 L111.8 12.3 L112.3 13.6 L111.8 14.9 L112.3 16.2 L112.7 17.5 L112.4 18.8 L111.7 20.1 L111.6 21.4 L111.1 22.7 L111.1 24.0 L111.7 25.3 L111.8 26.6 L111.8 27.9 L112.0 29.2 L112.2 30.5 L112.0 31.8 L111.8 33.1 L111.6 34.4 L111.5 35.7 L111.2 37.0 L111.0 38.3 L110.3 39.6 L110.4 40.9 L110.2 42.2 L110.5 43.5 L110.0 44.8 L110.1 46.1 L110.1 47.4 L111.0 48.7 L111.7 50.0 L111.9 51.3 L111.7 52.6 L112.1 53.9 L112.2 55.2 L112.0 56.5 L111.5 57.8 L111.4 59.1 L111.4 60.4 L111.4 61.7 L111.5 63.0 L111.8 64.3 L112.3 65.6 L111.7 66.9 L111.9 68.2 L111.5 69.5 L111.2 70.8 L111.6 72.1 L111.4 73.4 L111.4 74.7 L110.8 76.0 L110.0 77.3 L109.9 78.6 L110.1 79.9" fill="none" stroke="#c7c12a" stroke-width="1.20" stroke-linecap="butt" stroke-linejoin="round" opacity="0.95" stroke-dasharray="7.9 0.8 4.2 0.6"/>
<path d="M110.1 86.6 L110.0 88.1 L110.0 89.6 L109.9 91.1 L109.8 92.6" fill="none" stroke="#12beb9" stroke-width="3.60" stroke-linecap="butt" stroke-linejoin="round" opacity="0.50"/>
<path d="M110.2 86.6 L109.9 87.6 L110.3 88.6 L109.9 89.6 L110.3 90.6 L109.9 91.6 L109.8 92.6" fill="none" stroke="#c1c32d" stroke-width="1.60" stroke-linecap="butt" stroke-linejoin="round" opacity="0.95"/>
<path d="M110.2 98.6 L110.1 100.1 L110.1 101.6 L110.0 103.1 L109.9 104.6" fill="none" stroke="#12beb9" stroke-width="3.60" stroke-linecap="butt" stroke-linejoin="round" opacity="0.50"/>
<path d="M110.3 98.6 L110.3 99.6 L110.4 100.6 L110.3 101.6 L109.9 102.6 L110.1 103.6 L110.2 104.6" fill="none" stroke="#c1c32d" stroke-width="1.60" stroke-linecap="butt" stroke-linejoin="round" opacity="0.95"/>
<path d="M122.7 8.4 L122.5 9.7 L122.7 11.0 L122.7 12.3 L122.3 13.6 L122.0 14.9 L122.1 16.2 L122.1 17.5 L121.6 18.8 L121.4 20.1 L121.4 21.4 L121.2 22.7 L121.5 24.0 L121.6 25.3 L121.6 26.6 L121.9 27.9 L122.4 29.2 L122.6 30.5 L123.0 31.8 L122.9 33.1 L123.2 34.4 L123.1 35.7 L123.1 37.0 L123.0 38.3 L122.8 39.6 L122.7 40.9 L122.8 42.2 L123.0 43.5 L123.0 44.8 L123.0 46.1 L122.8 47.4 L122.6 48.7 L122.9 50.0 L122.8 51.3 L122.6 52.6 L122.2 53.9 L121.9 55.2 L121.8 56.5 L121.6 57.8 L121.4 59.1 L121.1 60.4 L121.2 61.7 L121.5 63.0 L121.6 64.3 L121.9 65.6 L122.2 66.9 L122.5 68.2 L122.7 69.5 L122.5 70.8 L122.3 72.1 L122.3 73.4 L122.3 74.7 L122.4 76.0 L122.6 77.3 L122.8 78.6 L122.5 79.9" fill="none" stroke="#12beb9" stroke-width="8.80" stroke-linecap="butt" stroke-linejoin="round" opacity="0.50"/>
<path d="M122.7 8.4 L122.8 9.7 L122.9 11.0 L122.7 12.3 L122.4 13.6 L122.5 14.9 L122.5 16.2 L122.2 17.5 L122.1 18.8 L121.6 20.1 L121.1 21.4 L121.3 22.7 L121.6 24.0 L121.4 25.3 L121.9 26.6 L122.5 27.9 L122.4 29.2 L122.7 30.5 L123.1 31.8 L123.1 33.1 L122.9 34.4 L122.8 35.7 L123.1 37.0 L123.2 38.3 L122.9 39.6 L122.5 40.9 L122.8 42.2 L123.0 43.5 L122.7 44.8 L122.8 46.1 L123.1 47.4 L123.3 48.7 L123.0 50.0 L122.7 51.3 L122.5 52.6 L122.0 53.9 L121.6 55.2 L121.2 56.5 L121.3 57.8 L121.1 59.1 L121.2 60.4 L121.1 61.7 L121.3 63.0 L121.3 64.3 L121.4 65.6 L122.2 66.9 L122.2 68.2 L122.1 69.5 L122.5 70.8 L122.7 72.1 L122.3 73.4 L122.5 74.7 L122.3 76.0 L122.4 77.3 L122.1 78.6 L122.1 79.9" fill="none" stroke="#3bc992" stroke-width="4.80" stroke-linecap="butt" stroke-linejoin="round" opacity="0.80"/>
<path d="M121.3 8.4 L121.4 9.7 L121.0 11.0 L120.9 12.3 L120.4 13.6 L120.7 14.9 L120.3 16.2 L120.7 17.5 L120.5 18.8 L120.4 20.1 L120.4 21.4 L119.6 22.7 L119.1 24.0 L119.2 25.3 L119.3 26.6 L119.5 27.9 L119.7 29.2 L120.5 30.5 L121.4 31.8 L121.3 33.1 L121.9 34.4 L122.0 35.7 L121.0 37.0 L121.1 38.3 L120.9 39.6 L120.4 40.9 L121.2 42.2 L120.8 43.5 L121.0 44.8 L121.2 46.1 L121.7 47.4 L121.5 48.7 L121.1 50.0 L120.8 51.3 L120.2 52.6 L120.7 53.9 L120.8 55.2 L119.8 56.5 L119.0 57.8 L118.9 59.1 L118.9 60.4 L119.7 61.7 L120.2 63.0 L120.5 64.3 L119.8 65.6 L120.5 66.9 L120.8 68.2 L120.9 69.5 L121.4 70.8 L120.5 72.1 L120.2 73.4 L120.7 74.7 L121.2 76.0 L121.1 77.3 L120.7 78.6 L120.9 79.9" fill="none" stroke="#96ca48" stroke-width="1.00" stroke-linecap="butt" stroke-linejoin="round" opacity="0.90" stroke-dasharray="4.4 0.6 3.8 0.5"/>
<path d="M122.5 8.4 L122.1 9.7 L122.0 11.0 L121.8 12.3 L122.3 13.6 L121.7 14.9 L122.1 16.2 L121.6 17.5 L121.0 18.8 L121.7 20.1 L121.2 21.4 L121.8 22.7 L122.0 24.0 L122.3 25.3 L121.7 26.6 L122.0 27.9 L121.9 29.2 L123.0 30.5 L123.4 31.8 L123.4 33.1 L123.2 34.4 L123.0 35.7 L123.4 37.0 L123.0 38.3 L123.0 39.6 L122.4 40.9 L122.2 42.2 L122.0 43.5 L122.7 44.8 L122.8 46.1 L122.4 47.4 L123.1 48.7 L122.6 50.0 L122.4 51.3 L121.9 52.6 L121.6 53.9 L122.0 55.2 L121.5 56.5 L120.9 57.8 L121.0 59.1 L120.8 60.4 L121.6 61.7 L121.1 63.0 L122.0 64.3 L121.5 65.6 L122.4 66.9 L122.6 68.2 L122.2 69.5 L122.4 70.8 L122.2 72.1 L122.1 73.4 L121.9 74.7 L122.0 76.0 L122.9 77.3 L123.3 78.6 L123.5 79.9" fill="none" stroke="#7ecc5b" stroke-width="1.00" stroke-linecap="butt" stroke-linejoin="round" opacity="0.90" stroke-dasharray="5.2 0.9 3.2 0.8"/>
<path d="M124.0 8.4 L124.8 9.7 L123.9 11.0 L124.5 12.3 L124.1 13.6 L123.6 14.9 L123.1 16.2 L123.8 17.5 L123.6 18.8 L123.0 20.1 L123.0 21.4 L123.6 22.7 L123.1 24.0 L123.4 25.3 L123.2 26.6 L123.3 27.9 L124.3 29.2 L124.8 30.5 L124.5 31.8 L124.2 33.1 L124.1 34.4 L124.7 35.7 L124.7 37.0 L124.4 38.3 L124.1 39.6 L124.5 40.9 L124.7 42.2 L125.0 43.5 L124.9 44.8 L124.4 46.1 L124.0 47.4 L124.7 48.7 L124.5 50.0 L124.7 51.3 L123.8 52.6 L124.1 53.9 L123.5 55.2 L123.7 56.5 L123.8 57.8 L123.3 59.1 L122.5 60.4 L123.3 61.7 L123.3 63.0 L123.9 64.3 L123.6 65.6 L123.5 66.9 L124.3 68.2 L124.2 69.5 L123.9 70.8 L124.0 72.1 L124.3 73.4 L123.6 74.7 L124.0 76.0 L124.1 77.3 L124.3 78.6 L123.9 79.9" fill="none" stroke="#95ca49" stroke-width="1.00" stroke-linecap="butt" stroke-linejoin="round" opacity="0.90" stroke-dasharray="7.3 0.9 4.0 0.8"/>
<path d="M122.2 86.6 L122.3 88.1 L122.1 89.6 L122.3 91.1 L122.4 92.6" fill="none" stroke="#12beb9" stroke-width="3.60" stroke-linecap="butt" stroke-linejoin="round" opacity="0.50"/>
<path d="M122.2 86.6 L122.2 87.6 L122.2 88.6 L122.2 89.6 L121.9 90.6 L122.4 91.6 L122.1 92.6" fill="none" stroke="#8dcb4f" stroke-width="1.60" stroke-linecap="butt" stroke-linejoin="round" opacity="0.80"/>
<path d="M122.1 98.6 L122.0 100.1 L122.0 101.6 L122.2 103.1 L122.0 104.6" fill="none" stroke="#12beb9" stroke-width="3.60" stroke-linecap="butt" stroke-linejoin="round" opacity="0.50"/>
<path d="M121.9 98.6 L122.3 99.6 L122.0 100.6 L121.8 101.6 L122.2 102.6 L122.2 103.6 L122.2 104.6" fill="none" stroke="#8dcb4f" stroke-width="1.60" stroke-linecap="butt" stroke-linejoin="round" opacity="0.80"/>
<path d="M133.1 8.4 L133.2 9.7 L133.0 11.0 L132.6 12.3 L132.5 13.6 L132.7 14.9 L132.9 16.2 L133.0 17.5 L133.2 18.8 L133.6 20.1 L133.8 21.4 L134.2 22.7 L134.6 24.0 L134.4 25.3 L134.5 26.6 L134.5 27.9 L134.2 29.2 L134.2 30.5 L134.3 31.8 L134.0 33.1 L133.9 34.4 L134.1 35.7 L134.1 37.0 L134.0 38.3 L134.2 39.6 L134.2 40.9 L133.8 42.2 L133.5 43.5 L133.3 44.8 L133.0 46.1 L133.0 47.4 L132.8 48.7 L132.7 50.0 L132.7 51.3 L132.8 52.6 L132.6 53.9 L132.8 55.2 L133.3 56.5 L133.6 57.8 L133.6 59.1 L133.7 60.4 L133.9 61.7 L133.9 63.0 L133.9 64.3 L133.6 65.6 L133.7 66.9 L133.7 68.2 L133.6 69.5 L133.6 70.8 L134.1 72.1 L134.3 73.4 L134.5 74.7 L134.4 76.0 L134.5 77.3 L134.4 78.6 L134.2 79.9" fill="none" stroke="#12beb9" stroke-width="8.80" stroke-linecap="butt" stroke-linejoin="round" opacity="0.50"/>
<path d="M133.0 8.4 L133.0 9.7 L132.7 11.0 L132.8 12.3 L132.6 13.6 L132.8 14.9 L133.2 16.2 L133.4 17.5 L133.4 18.8 L133.7 20.1 L134.0 21.4 L134.6 22.7 L134.4 24.0 L134.4 25.3 L134.5 26.6 L134.2 27.9 L134.2 29.2 L134.4 30.5 L134.2 31.8 L133.9 33.1 L133.9 34.4 L133.9 35.7 L133.8 37.0 L133.7 38.3 L133.6 39.6 L133.6 40.9 L133.6 42.2 L133.4 43.5 L133.1 44.8 L132.7 46.1 L132.7 47.4 L132.8 48.7 L132.6 50.0 L132.5 51.3 L132.6 52.6 L132.5 53.9 L132.9 55.2 L133.1 56.5 L133.4 57.8 L133.7 59.1 L133.8 60.4 L133.7 61.7 L133.7 63.0 L133.6 64.3 L133.7 65.6 L133.7 66.9 L133.8 68.2 L133.5 69.5 L133.6 70.8 L134.1 72.1 L134.0 73.4 L134.2 74.7 L134.2 76.0 L134.1 77.3 L134.4 78.6 L133.9 79.9" fill="none" stroke="#21c1b0" stroke-width="4.80" stroke-linecap="butt" stroke-linejoin="round" opacity="0.80"/>
<path d="M131.7 8.4 L131.0 9.7 L130.5 11.0 L131.1 12.3 L130.9 13.6 L130.5 14.9 L130.8 16.2 L131.1 17.5 L131.8 18.8 L131.6 20.1 L131.8 21.4 L132.8 22.7 L133.0 24.0 L132.5 25.3 L132.4 26.6 L132.3 27.9 L132.5 29.2 L132.5 30.5 L132.7 31.8 L132.7 33.1 L132.4 34.4 L132.5 35.7 L132.6 37.0 L132.7 38.3 L132.4 39.6 L132.5 40.9 L132.4 42.2 L132.5 43.5 L131.5 44.8 L131.7 46.1 L130.6 47.4 L130.9 48.7 L130.8 50.0 L130.7 51.3 L131.2 52.6 L131.1 53.9 L131.1 55.2 L131.6 56.5 L132.1 57.8 L132.2 59.1 L132.0 60.4 L132.0 61.7 L132.0 63.0 L132.3 64.3 L131.9 65.6 L131.8 66.9 L131.9 68.2 L131.9 69.5 L131.8 70.8 L132.4 72.1 L132.8 73.4 L132.6 74.7 L132.5 76.0 L132.1 77.3 L132.0 78.6 L131.6 79.9" fill="none" stroke="#5acc77" stroke-width="1.00" stroke-linecap="butt" stroke-linejoin="round" opacity="0.90" stroke-dasharray="6.3 0.5 5.8 0.6"/>
<path d="M133.6 8.4 L133.6 9.7 L133.6 11.0 L132.8 12.3 L132.7 13.6 L133.2 14.9 L132.6 16.2 L132.5 17.5 L133.2 18.8 L133.7 20.1 L134.5 21.4 L134.8 22.7 L134.7 24.0 L135.2 25.3 L134.8 26.6 L134.6 27.9 L134.6 29.2 L134.2 30.5 L133.9 31.8 L134.0 33.1 L133.8 34.4 L134.4 35.7 L134.4 37.0 L134.2 38.3 L133.7 39.6 L133.7 40.9 L133.6 42.2 L133.6 43.5 L133.4 44.8 L133.6 46.1 L133.5 47.4 L132.9 48.7 L132.5 50.0 L132.6 51.3 L133.1 52.6 L132.7 53.9 L132.9 55.2 L133.5 56.5 L133.2 57.8 L133.3 59.1 L134.2 60.4 L134.4 61.7 L134.1 63.0 L133.6 64.3 L134.1 65.6 L134.1 66.9 L134.3 68.2 L134.6 69.5 L134.6 70.8 L134.2 72.1 L133.8 73.4 L133.8 74.7 L134.1 76.0 L134.2 77.3 L133.8 78.6 L133.4 79.9" fill="none" stroke="#5ccc76" stroke-width="1.00" stroke-linecap="butt" stroke-linejoin="round" opacity="0.90" stroke-dasharray="6.4 0.6 6.0 0.8"/>
<path d="M134.6 8.4 L134.6 9.7 L134.9 11.0 L134.5 12.3 L134.7 13.6 L134.1 14.9 L134.3 16.2 L135.2 17.5 L135.4 18.8 L135.8 20.1 L135.6 21.4 L136.0 22.7 L136.3 24.0 L136.1 25.3 L136.3 26.6 L136.3 27.9 L136.7 29.2 L136.3 30.5 L135.9 31.8 L135.4 33.1 L135.2 34.4 L135.8 35.7 L135.4 37.0 L135.2 38.3 L135.2 39.6 L135.5 40.9 L135.9 42.2 L135.7 43.5 L135.6 44.8 L134.6 46.1 L134.0 47.4 L134.4 48.7 L134.1 50.0 L134.4 51.3 L134.2 52.6 L134.0 53.9 L134.2 55.2 L134.3 56.5 L135.3 57.8 L135.6 59.1 L135.5 60.4 L135.6 61.7 L135.5 63.0 L135.1 64.3 L135.8 65.6 L135.8 66.9 L136.2 68.2 L135.8 69.5 L135.9 70.8 L135.6 72.1 L135.3 73.4 L136.2 74.7 L136.5 76.0 L136.1 77.3 L136.4 78.6 L136.3 79.9" fill="none" stroke="#51cc7f" stroke-width="1.00" stroke-linecap="butt" stroke-linejoin="round" opacity="0.90" stroke-dasharray="6.4 1.0 4.5 1.0"/>
<path d="M133.3 86.6 L133.3 88.1 L133.4 89.6 L133.3 91.1 L133.3 92.6" fill="none" stroke="#12beb9" stroke-width="3.60" stroke-linecap="butt" stroke-linejoin="round" opacity="0.50"/>
<path d="M133.6 86.6 L133.5 87.6 L133.6 88.6 L133.3 89.6 L133.2 90.6 L133.2 91.6 L133.2 92.6" fill="none" stroke="#58cc79" stroke-width="1.60" stroke-linecap="butt" stroke-linejoin="round" opacity="0.80"/>
<path d="M133.6 98.6 L133.4 100.1 L133.4 101.6 L133.3 103.1 L133.3 104.6" fill="none" stroke="#12beb9" stroke-width="3.60" stroke-linecap="butt" stroke-linejoin="round" opacity="0.50"/>
<path d="M133.3 98.6 L133.3 99.6 L133.1 100.6 L133.1 101.6 L133.5 102.6 L133.3 103.6 L133.2 104.6" fill="none" stroke="#58cc79" stroke-width="1.60" stroke-linecap="butt" stroke-linejoin="round" opacity="0.80"/>
</g>
<g filter="url(#b1)">
<path d="M87.7 8.4 L87.7 107.6" fill="none" stroke="#33c69d" stroke-width="7.00" stroke-linecap="butt" stroke-linejoin="round" opacity="0.50"/>
<path d="M86.1 8.4 L86.1 9.9 L86.1 11.4 L86.0 12.9 L86.1 14.4 L86.1 15.9 L86.1 17.4 L86.2 18.9 L86.1 20.4 L86.1 21.9 L86.2 23.4 L86.1 24.9 L86.1 26.4 L86.2 27.9 L86.3 29.4 L86.2 30.9 L86.2 32.4 L86.2 33.9 L86.2 35.4 L86.3 36.9 L86.2 38.4 L86.3 39.9 L86.3 41.4 L86.2 42.9 L86.2 44.4 L86.1 45.9 L86.2 47.4 L86.1 48.9 L86.2 50.4 L86.2 51.9 L86.2 53.4 L86.1 54.9 L86.2 56.4 L86.1 57.9 L86.2 59.4 L86.1 60.9 L86.2 62.4 L86.2 63.9 L86.1 65.4 L86.2 66.9 L86.2 68.4 L86.2 69.9 L86.2 71.4 L86.2 72.9 L86.2 74.4 L86.1 75.9 L86.1 77.4 L86.2 78.9 L86.2 80.4 L86.2 81.9 L86.1 83.4 L86.2 84.9 L86.2 86.4 L86.2 87.9 L86.1 89.4 L86.1 90.9 L86.1 92.4 L86.1 93.9 L86.1 95.4 L86.2 96.9 L86.1 98.4 L86.1 99.9 L86.2 101.4 L86.3 102.9 L86.3 104.4 L86.3 105.9 L86.2 107.4" fill="none" stroke="#c8c129" stroke-width="1.60" stroke-linecap="butt" stroke-linejoin="round"/>
<path d="M86.2 8.4 L86.1 9.9 L86.2 11.4 L86.2 12.9 L86.2 14.4 L86.2 15.9 L86.2 17.4 L86.2 18.9 L86.2 20.4 L86.3 21.9 L86.2 23.4 L86.2 24.9 L86.2 26.4 L86.1 27.9 L86.2 29.4 L86.3 30.9 L86.3 32.4 L86.2 33.9 L86.1 35.4 L86.1 36.9 L86.1 38.4 L86.1 39.9 L86.1 41.4 L86.0 42.9 L86.1 44.4 L86.2 45.9 L86.1 47.4 L86.2 48.9 L86.2 50.4 L86.3 51.9 L86.2 53.4 L86.2 54.9 L86.2 56.4 L86.2 57.9 L86.1 59.4 L86.2 60.9 L86.3 62.4 L86.2 63.9 L86.1 65.4 L86.2 66.9 L86.2 68.4 L86.1 69.9 L86.1 71.4 L86.1 72.9 L86.2 74.4 L86.1 75.9 L86.2 77.4 L86.3 78.9 L86.2 80.4 L86.2 81.9 L86.2 83.4 L86.2 84.9 L86.3 86.4 L86.2 87.9 L86.1 89.4 L86.2 90.9 L86.2 92.4 L86.3 93.9 L86.3 95.4 L86.3 96.9 L86.3 98.4 L86.3 99.9 L86.3 101.4 L86.1 102.9 L86.2 104.4 L86.2 105.9 L86.2 107.4" fill="none" stroke="#f6e028" stroke-width="0.80" stroke-linecap="butt" stroke-linejoin="round" opacity="0.60"/>
<path d="M89.5 8.4 L89.4 9.9 L89.4 11.4 L89.3 12.9 L89.4 14.4 L89.5 15.9 L89.4 17.4 L89.4 18.9 L89.5 20.4 L89.5 21.9 L89.5 23.4 L89.4 24.9 L89.3 26.4 L89.3 27.9 L89.3 29.4 L89.3 30.9 L89.3 32.4 L89.3 33.9 L89.4 35.4 L89.4 36.9 L89.4 38.4 L89.3 39.9 L89.4 41.4 L89.4 42.9 L89.5 44.4 L89.4 45.9 L89.4 47.4 L89.5 48.9 L89.4 50.4 L89.4 51.9 L89.4 53.4 L89.4 54.9 L89.4 56.4 L89.5 57.9 L89.4 59.4 L89.4 60.9 L89.4 62.4 L89.4 63.9 L89.5 65.4 L89.5 66.9 L89.4 68.4 L89.3 69.9 L89.3 71.4 L89.3 72.9 L89.3 74.4 L89.3 75.9 L89.3 77.4 L89.4 78.9 L89.4 80.4 L89.3 81.9 L89.3 83.4 L89.3 84.9 L89.3 86.4 L89.3 87.9 L89.3 89.4 L89.2 90.9 L89.4 92.4 L89.4 93.9 L89.3 95.4 L89.4 96.9 L89.5 98.4 L89.5 99.9 L89.4 101.4 L89.4 102.9 L89.4 104.4 L89.3 105.9 L89.4 107.4" fill="none" stroke="#8dcb4f" stroke-width="1.40" stroke-linecap="butt" stroke-linejoin="round"/>
<path d="M93.1 8.4 L93.3 9.9 L93.4 11.4 L93.4 12.9 L93.5 14.4 L93.5 15.9 L93.3 17.4 L93.2 18.9 L93.1 20.4 L93.0 21.9 L93.2 23.4 L93.4 24.9 L93.3 26.4 L93.2 27.9 L93.3 29.4 L93.4 30.9 L93.5 32.4 L93.3 33.9 L93.4 35.4 L93.5 36.9 L93.5 38.4 L93.4 39.9 L93.2 41.4 L93.4 42.9 L93.3 44.4 L93.2 45.9 L93.3 47.4 L93.2 48.9 L93.4 50.4 L93.3 51.9 L93.1 53.4 L93.2 54.9 L93.3 56.4 L93.4 57.9 L93.5 59.4 L93.6 60.9 L93.6 62.4 L93.5 63.9 L93.4 65.4 L93.2 66.9 L93.2 68.4 L93.3 69.9 L93.1 71.4 L93.3 72.9 L93.1 74.4 L93.2 75.9 L93.4 77.4 L93.2 78.9 L93.1 80.4 L93.1 81.9 L93.1 83.4 L93.3 84.9 L93.1 86.4 L93.3 87.9 L93.4 89.4 L93.5 90.9 L93.4 92.4 L93.3 93.9 L93.3 95.4 L93.3 96.9 L93.3 98.4 L93.2 99.9 L93.2 101.4 L93.3 102.9 L93.4 104.4 L93.5 105.9 L93.3 107.4" fill="none" stroke="#58cc79" stroke-width="1.00" stroke-linecap="butt" stroke-linejoin="round" opacity="0.80"/>
<path d="M82.4 8.4 L82.4 9.9 L82.5 11.4 L82.4 12.9 L82.3 14.4 L82.2 15.9 L82.3 17.4 L82.3 18.9 L82.6 20.4 L82.7 21.9 L82.8 23.4 L82.9 24.9 L82.9 26.4 L82.8 27.9 L82.8 29.4 L82.5 30.9 L82.6 32.4 L82.6 33.9 L82.5 35.4 L82.5 36.9 L82.7 38.4 L82.6 39.9 L82.6 41.4 L82.5 42.9 L82.4 44.4 L82.6 45.9 L82.4 47.4 L82.3 48.9 L82.5 50.4 L82.5 51.9 L82.3 53.4 L82.4 54.9 L82.4 56.4 L82.5 57.9 L82.5 59.4 L82.5 60.9 L82.5 62.4 L82.5 63.9 L82.3 65.4 L82.3 66.9 L82.5 68.4 L82.5 69.9 L82.4 71.4 L82.6 72.9 L82.4 74.4 L82.3 75.9 L82.4 77.4 L82.3 78.9 L82.4 80.4 L82.5 81.9 L82.4 83.4 L82.4 84.9 L82.3 86.4 L82.4 87.9 L82.5 89.4 L82.3 90.9 L82.4 92.4 L82.2 93.9 L82.3 95.4 L82.5 96.9 L82.5 98.4 L82.6 99.9 L82.7 101.4 L82.4 102.9 L82.7 104.4 L82.7 105.9 L82.5 107.4" fill="none" stroke="#3bc992" stroke-width="1.00" stroke-linecap="butt" stroke-linejoin="round" opacity="0.60"/>
</g>
</g>
<text class="t" text-anchor="end" transform="translate(34.10 12.55) scale(0.88 1)">0</text>
<text class="t" text-anchor="end" transform="translate(34.10 29.20) scale(0.88 1)">20</text>
<text class="t" text-anchor="end" transform="translate(34.10 45.80) scale(0.88 1)">40</text>
<text class="t" text-anchor="end" transform="translate(34.10 62.40) scale(0.88 1)">60</text>
<text class="t" text-anchor="end" transform="translate(34.10 79.00) scale(0.88 1)">80</text>
<text class="t" text-anchor="end" transform="translate(34.10 95.65) scale(0.88 1)">100</text>
<text class="t" text-anchor="middle" transform="translate(58.90 119.70) scale(0.88 1)">−20</text>
<text class="t" text-anchor="middle" transform="translate(89.35 119.70) scale(0.88 1)">0</text>
<text class="t" text-anchor="middle" transform="translate(119.80 119.70) scale(0.88 1)">20</text>
<text class="cbt" text-anchor="start" transform="translate(154.80 16.15) scale(0.88 1)">24</text>
<text class="cbt" text-anchor="start" transform="translate(154.80 30.12) scale(0.88 1)">22</text>
<text class="cbt" text-anchor="start" transform="translate(154.80 44.08) scale(0.88 1)">20</text>
<text class="cbt" text-anchor="start" transform="translate(154.80 58.05) scale(0.88 1)">18</text>
<text class="cbt" text-anchor="start" transform="translate(154.80 72.02) scale(0.88 1)">16</text>
<text class="cbt" text-anchor="start" transform="translate(154.80 85.98) scale(0.88 1)">14</text>
<text class="cbt" text-anchor="start" transform="translate(154.80 99.95) scale(0.88 1)">12</text>
<text class="l" text-anchor="middle" letter-spacing="0.00" transform="translate(16.60 58.00) rotate(-90)">Time(s)</text>
<text x="89.60" y="130.90" class="l" text-anchor="middle" letter-spacing="0.10">Velosity(m/s)</text>
<text x="84.00" y="150.00" class="c" text-anchor="middle">(<tspan font-weight="bold">a</tspan>)</text>
<clipPath id="cp_b"><rect x="222.00" y="8.40" width="110.40" height="99.20"/></clipPath>
<rect x="222.00" y="8.40" width="110.40" height="99.20" fill="#2a93ee"/>
<rect x="335.60" y="8.40" width="7.00" height="99.20" fill="url(#pg)"/>
<g clip-path="url(#cp_b)">
<rect x="222.00" y="8.40" width="110.40" height="99.20" filter="url(#nz)" opacity="0.24"/>
<rect x="222.00" y="8.40" width="110.40" height="99.20" filter="url(#nd)" opacity="0.45"/>
<g filter="url(#b3)" opacity="0.35">
<path d="M277 100 L236 60 L222 70 L222 100 Z" fill="#15afd9"/>
<path d="M277 100 L318 60 L332 70 L332 100 Z" fill="#15afd9"/>
</g>
<g filter="url(#b1)">
<path d="M222.0 94.0 L227.2 94.4" fill="none" stroke="#0cbdbc" stroke-width="1.19" stroke-linecap="butt" stroke-linejoin="round" opacity="0.49"/>
<path d="M229.1 94.1 L234.1 94.1" fill="none" stroke="#14b0d8" stroke-width="1.10" stroke-linecap="butt" stroke-linejoin="round" opacity="0.51"/>
<path d="M235.0 94.2 L237.9 94.4" fill="none" stroke="#12beb9" stroke-width="1.24" stroke-linecap="butt" stroke-linejoin="round" opacity="0.62"/>
<path d="M240.6 94.0 L246.2 94.3" fill="none" stroke="#01b8c8" stroke-width="1.18" stroke-linecap="butt" stroke-linejoin="round" opacity="0.65"/>
<path d="M249.4 94.1 L254.6 94.3" fill="none" stroke="#2dc4a5" stroke-width="1.16" stroke-linecap="butt" stroke-linejoin="round" opacity="0.46"/>
<path d="M255.7 94.2 L259.9 94.4" fill="none" stroke="#0eb2d4" stroke-width="1.26" stroke-linecap="butt" stroke-linejoin="round" opacity="0.65"/>
<path d="M261.0 94.2 L263.7 94.4" fill="none" stroke="#0ebdbb" stroke-width="0.86" stroke-linecap="butt" stroke-linejoin="round" opacity="0.46"/>
<path d="M265.0 94.0 L267.0 94.2" fill="none" stroke="#02b7cb" stroke-width="1.14" stroke-linecap="butt" stroke-linejoin="round" opacity="0.56"/>
<path d="M269.9 94.2 L272.0 94.3" fill="none" stroke="#25c2ae" stroke-width="1.27" stroke-linecap="butt" stroke-linejoin="round" opacity="0.45"/>
<path d="M283.0 94.2 L286.0 94.4" fill="none" stroke="#24c1ae" stroke-width="0.82" stroke-linecap="butt" stroke-linejoin="round" opacity="0.50"/>
<path d="M287.2 94.1 L292.4 94.2" fill="none" stroke="#0ab4d2" stroke-width="1.22" stroke-linecap="butt" stroke-linejoin="round" opacity="0.57"/>
<path d="M295.1 94.0 L300.5 94.1" fill="none" stroke="#06b5cf" stroke-width="1.25" stroke-linecap="butt" stroke-linejoin="round" opacity="0.63"/>
<path d="M302.9 94.1 L304.6 94.2" fill="none" stroke="#0ebdbb" stroke-width="0.99" stroke-linecap="butt" stroke-linejoin="round" opacity="0.56"/>
<path d="M305.9 94.1 L307.4 94.0" fill="none" stroke="#04bbc2" stroke-width="1.29" stroke-linecap="butt" stroke-linejoin="round" opacity="0.46"/>
<path d="M309.8 94.1 L311.9 94.1" fill="none" stroke="#07bcc0" stroke-width="0.93" stroke-linecap="butt" stroke-linejoin="round" opacity="0.62"/>
<path d="M314.6 94.4 L318.4 94.0" fill="none" stroke="#0cbdbc" stroke-width="1.19" stroke-linecap="butt" stroke-linejoin="round" opacity="0.71"/>
<path d="M321.8 94.3 L326.8 94.1" fill="none" stroke="#02b7cb" stroke-width="1.20" stroke-linecap="butt" stroke-linejoin="round" opacity="0.71"/>
<path d="M329.3 94.1 L332.4 94.3" fill="none" stroke="#1ec0b2" stroke-width="1.05" stroke-linecap="butt" stroke-linejoin="round" opacity="0.64"/>
<path d="M222.0 96.2 L225.1 96.0" fill="none" stroke="#1dc0b3" stroke-width="0.96" stroke-linecap="butt" stroke-linejoin="round" opacity="0.85"/>
<path d="M227.4 96.1 L231.0 96.1" fill="none" stroke="#1ec0b2" stroke-width="0.87" stroke-linecap="butt" stroke-linejoin="round" opacity="0.51"/>
<path d="M232.8 96.2 L238.2 96.2" fill="none" stroke="#1abfb5" stroke-width="0.88" stroke-linecap="butt" stroke-linejoin="round" opacity="0.53"/>
<path d="M240.3 96.3 L243.1 96.2" fill="none" stroke="#42ca8b" stroke-width="0.97" stroke-linecap="butt" stroke-linejoin="round" opacity="0.82"/>
<path d="M244.8 96.0 L248.9 96.2" fill="none" stroke="#47cb87" stroke-width="0.98" stroke-linecap="butt" stroke-linejoin="round" opacity="0.77"/>
<path d="M249.9 96.0 L253.3 96.2" fill="none" stroke="#3fca8e" stroke-width="0.94" stroke-linecap="butt" stroke-linejoin="round" opacity="0.60"/>
<path d="M256.5 96.1 L258.1 96.3" fill="none" stroke="#10beba" stroke-width="1.00" stroke-linecap="butt" stroke-linejoin="round" opacity="0.58"/>
<path d="M259.3 96.3 L263.5 96.0" fill="none" stroke="#35c79a" stroke-width="1.28" stroke-linecap="butt" stroke-linejoin="round" opacity="0.71"/>
<path d="M266.7 96.4 L268.5 96.1" fill="none" stroke="#09bcbe" stroke-width="0.89" stroke-linecap="butt" stroke-linejoin="round" opacity="0.69"/>
<path d="M271.5 96.4 L272.0 96.1" fill="none" stroke="#1cc0b4" stroke-width="1.17" stroke-linecap="butt" stroke-linejoin="round" opacity="0.73"/>
<path d="M283.0 96.1 L286.3 96.0" fill="none" stroke="#24c1ae" stroke-width="0.82" stroke-linecap="butt" stroke-linejoin="round" opacity="0.72"/>
<path d="M289.0 96.2 L292.0 96.1" fill="none" stroke="#27c2ab" stroke-width="0.81" stroke-linecap="butt" stroke-linejoin="round" opacity="0.82"/>
<path d="M294.1 96.0 L298.1 96.3" fill="none" stroke="#34c79b" stroke-width="0.96" stroke-linecap="butt" stroke-linejoin="round" opacity="0.54"/>
<path d="M301.6 96.3 L303.8 96.0" fill="none" stroke="#39c995" stroke-width="1.01" stroke-linecap="butt" stroke-linejoin="round" opacity="0.69"/>
<path d="M305.0 96.3 L309.1 96.3" fill="none" stroke="#1cc0b3" stroke-width="1.17" stroke-linecap="butt" stroke-linejoin="round" opacity="0.60"/>
<path d="M311.4 96.3 L316.1 96.1" fill="none" stroke="#37c898" stroke-width="1.29" stroke-linecap="butt" stroke-linejoin="round" opacity="0.66"/>
<path d="M319.0 96.4 L321.8 96.0" fill="none" stroke="#01bac5" stroke-width="1.04" stroke-linecap="butt" stroke-linejoin="round" opacity="0.73"/>
<path d="M324.0 96.4 L328.9 96.1" fill="none" stroke="#36c899" stroke-width="0.84" stroke-linecap="butt" stroke-linejoin="round" opacity="0.52"/>
<path d="M330.7 96.2 L332.4 96.2" fill="none" stroke="#0cbdbc" stroke-width="1.27" stroke-linecap="butt" stroke-linejoin="round" opacity="0.63"/>
<path d="M222.0 100.8 L224.2 100.9" fill="none" stroke="#0ab4d1" stroke-width="0.81" stroke-linecap="butt" stroke-linejoin="round" opacity="0.64"/>
<path d="M225.5 100.7 L228.0 100.8" fill="none" stroke="#01b8c8" stroke-width="1.20" stroke-linecap="butt" stroke-linejoin="round" opacity="0.55"/>
<path d="M231.5 100.5 L234.5 100.8" fill="none" stroke="#12b1d6" stroke-width="1.12" stroke-linecap="butt" stroke-linejoin="round" opacity="0.53"/>
<path d="M237.7 100.7 L243.1 100.7" fill="none" stroke="#2cc4a7" stroke-width="1.27" stroke-linecap="butt" stroke-linejoin="round" opacity="0.60"/>
<path d="M244.0 100.6 L246.6 100.7" fill="none" stroke="#05b6ce" stroke-width="0.90" stroke-linecap="butt" stroke-linejoin="round" opacity="0.63"/>
<path d="M248.0 100.9 L252.4 100.6" fill="none" stroke="#0dbdbc" stroke-width="0.88" stroke-linecap="butt" stroke-linejoin="round" opacity="0.66"/>
<path d="M254.0 100.8 L259.4 100.9" fill="none" stroke="#02b7cb" stroke-width="0.97" stroke-linecap="butt" stroke-linejoin="round" opacity="0.56"/>
<path d="M261.0 100.8 L266.5 100.7" fill="none" stroke="#03bbc2" stroke-width="1.09" stroke-linecap="butt" stroke-linejoin="round" opacity="0.67"/>
<path d="M267.7 100.6 L270.2 100.8" fill="none" stroke="#28c3ab" stroke-width="0.89" stroke-linecap="butt" stroke-linejoin="round" opacity="0.66"/>
<path d="M283.0 100.5 L289.0 100.5" fill="none" stroke="#2ec5a4" stroke-width="0.80" stroke-linecap="butt" stroke-linejoin="round" opacity="0.68"/>
<path d="M290.6 100.5 L292.8 100.5" fill="none" stroke="#19bfb5" stroke-width="0.85" stroke-linecap="butt" stroke-linejoin="round" opacity="0.52"/>
<path d="M295.5 100.9 L301.2 100.9" fill="none" stroke="#13b0d7" stroke-width="0.92" stroke-linecap="butt" stroke-linejoin="round" opacity="0.64"/>
<path d="M303.9 100.7 L308.5 100.6" fill="none" stroke="#02bac3" stroke-width="0.85" stroke-linecap="butt" stroke-linejoin="round" opacity="0.43"/>
<path d="M309.4 100.9 L315.4 100.5" fill="none" stroke="#06bcc0" stroke-width="0.87" stroke-linecap="butt" stroke-linejoin="round" opacity="0.54"/>
<path d="M317.0 100.5 L319.3 100.8" fill="none" stroke="#07bcc0" stroke-width="0.86" stroke-linecap="butt" stroke-linejoin="round" opacity="0.52"/>
<path d="M322.0 100.6 L325.7 100.6" fill="none" stroke="#2ec4a4" stroke-width="1.24" stroke-linecap="butt" stroke-linejoin="round" opacity="0.62"/>
<path d="M329.0 100.6 L331.7 100.5" fill="none" stroke="#13b0d7" stroke-width="1.05" stroke-linecap="butt" stroke-linejoin="round" opacity="0.53"/>
<path d="M222.0 103.6 L226.0 103.9" fill="none" stroke="#07bcc0" stroke-width="1.07" stroke-linecap="butt" stroke-linejoin="round" opacity="0.45"/>
<path d="M227.8 104.0 L232.4 103.9" fill="none" stroke="#04b6cd" stroke-width="0.96" stroke-linecap="butt" stroke-linejoin="round" opacity="0.42"/>
<path d="M235.8 103.7 L241.7 103.8" fill="none" stroke="#16afd9" stroke-width="1.30" stroke-linecap="butt" stroke-linejoin="round" opacity="0.33"/>
<path d="M243.6 103.7 L247.8 103.9" fill="none" stroke="#06b5ce" stroke-width="0.92" stroke-linecap="butt" stroke-linejoin="round" opacity="0.37"/>
<path d="M251.1 103.9 L253.1 104.0" fill="none" stroke="#1aacdd" stroke-width="1.15" stroke-linecap="butt" stroke-linejoin="round" opacity="0.40"/>
<path d="M256.2 103.7 L260.6 104.0" fill="none" stroke="#1caadf" stroke-width="1.17" stroke-linecap="butt" stroke-linejoin="round" opacity="0.52"/>
<path d="M262.9 104.0 L266.7 103.7" fill="none" stroke="#05bbc1" stroke-width="1.17" stroke-linecap="butt" stroke-linejoin="round" opacity="0.41"/>
<path d="M269.1 103.8 L272.0 103.9" fill="none" stroke="#09bcbe" stroke-width="0.96" stroke-linecap="butt" stroke-linejoin="round" opacity="0.47"/>
<path d="M283.0 103.9 L286.9 103.7" fill="none" stroke="#20c1b1" stroke-width="1.04" stroke-linecap="butt" stroke-linejoin="round" opacity="0.49"/>
<path d="M288.3 103.7 L292.2 103.6" fill="none" stroke="#22c1b0" stroke-width="1.06" stroke-linecap="butt" stroke-linejoin="round" opacity="0.45"/>
<path d="M294.3 103.7 L298.2 103.6" fill="none" stroke="#18bfb6" stroke-width="1.03" stroke-linecap="butt" stroke-linejoin="round" opacity="0.47"/>
<path d="M301.2 104.0 L306.4 103.6" fill="none" stroke="#05b6ce" stroke-width="1.22" stroke-linecap="butt" stroke-linejoin="round" opacity="0.51"/>
<path d="M309.6 103.7 L311.6 103.6" fill="none" stroke="#07b5cf" stroke-width="1.20" stroke-linecap="butt" stroke-linejoin="round" opacity="0.44"/>
<path d="M312.9 103.7 L316.4 104.0" fill="none" stroke="#0abdbd" stroke-width="1.02" stroke-linecap="butt" stroke-linejoin="round" opacity="0.44"/>
<path d="M317.4 103.6 L322.5 103.9" fill="none" stroke="#06b5cf" stroke-width="1.06" stroke-linecap="butt" stroke-linejoin="round" opacity="0.38"/>
<path d="M325.4 103.7 L328.5 103.6" fill="none" stroke="#13b1d7" stroke-width="1.09" stroke-linecap="butt" stroke-linejoin="round" opacity="0.34"/>
<path d="M330.3 103.7 L332.4 103.7" fill="none" stroke="#10b2d5" stroke-width="1.22" stroke-linecap="butt" stroke-linejoin="round" opacity="0.35"/>
<path d="M222.0 106.8 L226.4 106.9" fill="none" stroke="#1cc0b3" stroke-width="1.11" stroke-linecap="butt" stroke-linejoin="round" opacity="0.60"/>
<path d="M229.5 106.8 L231.2 107.0" fill="none" stroke="#06b5cf" stroke-width="1.00" stroke-linecap="butt" stroke-linejoin="round" opacity="0.69"/>
<path d="M233.2 106.8 L238.3 106.9" fill="none" stroke="#27c2ac" stroke-width="0.90" stroke-linecap="butt" stroke-linejoin="round" opacity="0.79"/>
<path d="M240.1 107.0 L244.8 106.8" fill="none" stroke="#16afd9" stroke-width="1.18" stroke-linecap="butt" stroke-linejoin="round" opacity="0.60"/>
<path d="M246.6 107.1 L250.4 107.0" fill="none" stroke="#18aedb" stroke-width="1.10" stroke-linecap="butt" stroke-linejoin="round" opacity="0.63"/>
<path d="M252.6 106.9 L256.2 106.9" fill="none" stroke="#25c2ae" stroke-width="1.02" stroke-linecap="butt" stroke-linejoin="round" opacity="0.64"/>
<path d="M259.2 107.0 L263.0 107.0" fill="none" stroke="#01b8c9" stroke-width="0.82" stroke-linecap="butt" stroke-linejoin="round" opacity="0.70"/>
<path d="M266.1 107.0 L270.1 106.7" fill="none" stroke="#0bb3d2" stroke-width="0.84" stroke-linecap="butt" stroke-linejoin="round" opacity="0.74"/>
<path d="M283.0 107.0 L285.0 106.9" fill="none" stroke="#16aeda" stroke-width="1.14" stroke-linecap="butt" stroke-linejoin="round" opacity="0.71"/>
<path d="M286.0 107.0 L289.7 106.9" fill="none" stroke="#07bcbf" stroke-width="1.30" stroke-linecap="butt" stroke-linejoin="round" opacity="0.74"/>
<path d="M290.6 106.8 L296.0 106.9" fill="none" stroke="#19addc" stroke-width="1.29" stroke-linecap="butt" stroke-linejoin="round" opacity="0.57"/>
<path d="M297.2 106.8 L299.9 107.1" fill="none" stroke="#05bbc1" stroke-width="1.06" stroke-linecap="butt" stroke-linejoin="round" opacity="0.61"/>
<path d="M301.6 107.1 L303.3 107.1" fill="none" stroke="#22c1b0" stroke-width="0.93" stroke-linecap="butt" stroke-linejoin="round" opacity="0.54"/>
<path d="M304.9 106.8 L306.6 106.9" fill="none" stroke="#02bac4" stroke-width="1.09" stroke-linecap="butt" stroke-linejoin="round" opacity="0.60"/>
<path d="M308.9 107.1 L314.0 106.9" fill="none" stroke="#17aeda" stroke-width="0.96" stroke-linecap="butt" stroke-linejoin="round" opacity="0.65"/>
<path d="M315.3 106.8 L318.7 106.8" fill="none" stroke="#1dc0b3" stroke-width="0.95" stroke-linecap="butt" stroke-linejoin="round" opacity="0.71"/>
<path d="M321.0 106.9 L326.1 107.1" fill="none" stroke="#01b9c7" stroke-width="1.24" stroke-linecap="butt" stroke-linejoin="round" opacity="0.50"/>
<path d="M328.5 106.7 L332.0 107.1" fill="none" stroke="#15afd9" stroke-width="1.10" stroke-linecap="butt" stroke-linejoin="round" opacity="0.54"/>
<rect x="309.5" y="95.5" width="1.3" height="1.2" fill="#2cc4a6" opacity="0.58"/>
<rect x="245.8" y="101.4" width="1.7" height="0.9" fill="#3eca8f" opacity="0.54"/>
<rect x="307.7" y="104.0" width="1.8" height="1.0" fill="#2bc3a8" opacity="0.57"/>
<rect x="320.8" y="105.1" width="1.5" height="0.9" fill="#11b2d5" opacity="0.76"/>
<rect x="254.7" y="87.8" width="1.1" height="1.1" fill="#02bbc3" opacity="0.70"/>
<rect x="239.6" y="102.6" width="1.7" height="1.0" fill="#37c897" opacity="0.52"/>
<rect x="265.3" y="98.6" width="0.9" height="1.0" fill="#2ac3a9" opacity="0.55"/>
<rect x="281.9" y="78.7" width="1.0" height="1.1" fill="#30c5a2" opacity="0.64"/>
<rect x="312.5" y="105.7" width="1.0" height="1.4" fill="#47cb87" opacity="0.87"/>
<rect x="304.0" y="105.4" width="1.3" height="1.4" fill="#0cb3d3" opacity="0.67"/>
<rect x="316.3" y="98.2" width="1.4" height="1.1" fill="#0db3d3" opacity="0.51"/>
<rect x="314.3" y="104.9" width="1.1" height="1.4" fill="#13b1d7" opacity="0.72"/>
<rect x="327.5" y="84.9" width="1.2" height="1.4" fill="#2bc3a8" opacity="0.47"/>
<rect x="249.7" y="102.0" width="1.6" height="0.9" fill="#34c79c" opacity="0.58"/>
<rect x="230.5" y="97.6" width="1.4" height="0.9" fill="#21c1b0" opacity="0.80"/>
<rect x="226.6" y="97.9" width="1.4" height="0.9" fill="#2ac3a9" opacity="0.51"/>
<rect x="285.4" y="101.1" width="1.2" height="1.0" fill="#2cc4a7" opacity="0.52"/>
<rect x="258.8" y="95.3" width="1.7" height="1.3" fill="#17bfb6" opacity="0.52"/>
<rect x="233.2" y="85.1" width="1.7" height="0.9" fill="#1abfb5" opacity="0.69"/>
<rect x="240.7" y="98.9" width="1.4" height="1.1" fill="#08bcbf" opacity="0.54"/>
<rect x="266.6" y="99.7" width="1.1" height="0.9" fill="#01b8c9" opacity="0.84"/>
<rect x="224.6" y="84.9" width="1.7" height="1.1" fill="#34c79c" opacity="0.71"/>
<rect x="297.4" y="107.7" width="1.1" height="1.3" fill="#06b5cf" opacity="0.57"/>
<rect x="254.5" y="105.9" width="1.7" height="0.9" fill="#24c1ae" opacity="0.56"/>
<rect x="299.8" y="92.1" width="1.0" height="0.9" fill="#26c2ad" opacity="0.89"/>
<rect x="227.5" y="97.1" width="1.5" height="1.2" fill="#35c79a" opacity="0.60"/>
<rect x="322.5" y="103.5" width="0.9" height="1.4" fill="#0dbdbc" opacity="0.63"/>
<rect x="232.5" y="96.6" width="1.1" height="1.2" fill="#2dc4a6" opacity="0.52"/>
<rect x="244.4" y="104.6" width="1.1" height="1.0" fill="#45cb89" opacity="0.90"/>
<rect x="308.5" y="103.0" width="1.3" height="1.1" fill="#33c69d" opacity="0.86"/>
<rect x="244.5" y="107.9" width="1.5" height="1.3" fill="#34c79c" opacity="0.49"/>
<rect x="300.5" y="92.4" width="1.2" height="0.9" fill="#44ca8a" opacity="0.75"/>
<rect x="312.5" y="107.8" width="1.7" height="1.3" fill="#31c6a0" opacity="0.82"/>
<rect x="309.6" y="102.1" width="1.4" height="1.1" fill="#36c899" opacity="0.80"/>
<rect x="326.8" y="101.6" width="1.4" height="1.4" fill="#0ab4d1" opacity="0.89"/>
<rect x="308.0" y="101.3" width="1.1" height="1.3" fill="#01b8c9" opacity="0.54"/>
<rect x="321.1" y="105.9" width="1.5" height="1.2" fill="#0abdbd" opacity="0.80"/>
<rect x="324.7" y="103.5" width="1.6" height="1.0" fill="#0db3d3" opacity="0.74"/>
<rect x="313.3" y="92.0" width="1.2" height="1.2" fill="#37c898" opacity="0.81"/>
<rect x="224.8" y="95.3" width="1.0" height="1.3" fill="#0ebdbb" opacity="0.72"/>
<rect x="272.4" y="107.6" width="1.2" height="0.9" fill="#06bcc0" opacity="0.83"/>
<rect x="232.5" y="101.3" width="1.1" height="1.2" fill="#11beb9" opacity="0.75"/>
<rect x="310.2" y="101.8" width="1.0" height="1.2" fill="#12b1d6" opacity="0.82"/>
<rect x="326.4" y="104.5" width="1.2" height="0.9" fill="#3bc992" opacity="0.72"/>
<rect x="319.5" y="100.0" width="1.3" height="1.1" fill="#42ca8b" opacity="0.68"/>
<rect x="312.7" y="100.9" width="1.0" height="1.1" fill="#15afd9" opacity="0.53"/>
<rect x="325.1" y="107.5" width="1.3" height="1.3" fill="#01b9c8" opacity="0.61"/>
<rect x="316.1" y="96.8" width="1.4" height="1.0" fill="#3fca8e" opacity="0.85"/>
<rect x="295.0" y="99.7" width="1.0" height="1.2" fill="#12beb9" opacity="0.88"/>
<rect x="291.2" y="97.5" width="1.2" height="1.1" fill="#2dc4a6" opacity="0.86"/>
<rect x="229.2" y="88.3" width="1.7" height="1.2" fill="#21c1b0" opacity="0.65"/>
<rect x="304.1" y="85.3" width="1.7" height="1.2" fill="#31c6a0" opacity="0.47"/>
<rect x="325.9" y="105.3" width="1.7" height="0.9" fill="#25c2ae" opacity="0.71"/>
<rect x="228.0" y="102.7" width="1.3" height="1.2" fill="#2ac3a9" opacity="0.58"/>
<rect x="281.8" y="107.3" width="1.3" height="1.4" fill="#2ac3a8" opacity="0.81"/>
<rect x="296.1" y="98.9" width="1.2" height="1.4" fill="#2fc5a3" opacity="0.76"/>
<rect x="285.1" y="106.9" width="1.6" height="1.3" fill="#05bbc1" opacity="0.51"/>
<rect x="302.7" y="103.3" width="1.1" height="1.0" fill="#11b1d6" opacity="0.58"/>
<rect x="264.4" y="103.4" width="1.8" height="1.4" fill="#04b6cd" opacity="0.59"/>
<rect x="257.7" y="101.2" width="1.3" height="0.9" fill="#01b9c7" opacity="0.63"/>
<rect x="264.6" y="105.5" width="1.8" height="1.0" fill="#02b7cb" opacity="0.86"/>
<rect x="291.8" y="88.1" width="1.6" height="1.0" fill="#06b5cf" opacity="0.79"/>
<rect x="304.3" y="92.7" width="1.1" height="1.0" fill="#3eca8f" opacity="0.69"/>
<rect x="254.1" y="102.1" width="1.5" height="1.0" fill="#33c69e" opacity="0.47"/>
<rect x="261.2" y="101.4" width="1.7" height="1.0" fill="#01b8c8" opacity="0.48"/>
<rect x="282.2" y="95.4" width="1.6" height="1.2" fill="#0dbdbc" opacity="0.81"/>
<rect x="292.6" y="100.8" width="1.8" height="1.2" fill="#2ec4a5" opacity="0.80"/>
<rect x="265.6" y="101.9" width="1.7" height="1.2" fill="#05bbc1" opacity="0.63"/>
<rect x="243.1" y="104.5" width="1.7" height="1.1" fill="#1dc0b3" opacity="0.75"/>
<rect x="320.4" y="98.4" width="1.0" height="1.0" fill="#0fb2d5" opacity="0.64"/>
<rect x="295.1" y="86.5" width="1.4" height="1.0" fill="#24c1af" opacity="0.57"/>
<rect x="314.2" y="107.7" width="1.6" height="1.3" fill="#06b5cf" opacity="0.75"/>
<rect x="320.0" y="107.7" width="1.7" height="1.2" fill="#36c799" opacity="0.74"/>
<rect x="317.9" y="95.0" width="1.0" height="1.2" fill="#2ec5a4" opacity="0.73"/>
<rect x="288.2" y="107.4" width="1.6" height="1.0" fill="#02b7cb" opacity="0.55"/>
<rect x="233.1" y="103.9" width="1.5" height="1.4" fill="#35c79b" opacity="0.61"/>
<rect x="313.6" y="106.7" width="1.2" height="0.8" fill="#29c3aa" opacity="0.51"/>
<rect x="252.7" y="104.0" width="1.0" height="1.1" fill="#21c1b0" opacity="0.81"/>
<rect x="234.9" y="88.0" width="1.1" height="1.2" fill="#05bbc1" opacity="0.60"/>
<rect x="284.4" y="102.9" width="1.1" height="1.3" fill="#02b7cb" opacity="0.83"/>
<rect x="226.3" y="103.1" width="1.6" height="0.8" fill="#1bc0b4" opacity="0.64"/>
<rect x="229.8" y="95.3" width="1.5" height="1.2" fill="#25c2ae" opacity="0.63"/>
<rect x="247.4" y="93.4" width="1.7" height="1.4" fill="#35c79b" opacity="0.88"/>
<rect x="258.6" y="106.9" width="1.8" height="0.8" fill="#17bfb6" opacity="0.51"/>
<rect x="299.5" y="92.0" width="1.3" height="1.0" fill="#03b6cc" opacity="0.63"/>
<rect x="253.5" y="103.2" width="1.1" height="1.2" fill="#1cc0b3" opacity="0.65"/>
<rect x="244.2" y="102.5" width="1.1" height="1.1" fill="#2ec5a4" opacity="0.89"/>
<rect x="303.7" y="91.8" width="1.8" height="1.4" fill="#2fc5a2" opacity="0.77"/>
<rect x="224.4" y="101.1" width="1.7" height="1.2" fill="#29c3aa" opacity="0.57"/>
<rect x="261.4" y="105.1" width="1.0" height="1.2" fill="#47cb87" opacity="0.59"/>
<rect x="261.4" y="101.4" width="1.7" height="1.3" fill="#13beb8" opacity="0.50"/>
<rect x="234.5" y="106.1" width="1.0" height="1.3" fill="#16bfb7" opacity="0.90"/>
<rect x="311.8" y="97.7" width="1.0" height="0.9" fill="#22c1b0" opacity="0.68"/>
<rect x="225.3" y="105.9" width="1.7" height="1.2" fill="#41ca8c" opacity="0.89"/>
<rect x="270.2" y="99.9" width="1.6" height="1.0" fill="#35c79a" opacity="0.83"/>
<rect x="246.1" y="106.8" width="1.4" height="1.0" fill="#14b0d8" opacity="0.82"/>
<rect x="307.9" y="106.7" width="1.3" height="0.8" fill="#3bc992" opacity="0.69"/>
<rect x="290.5" y="99.2" width="1.7" height="1.1" fill="#2ac3a9" opacity="0.54"/>
<rect x="249.3" y="103.8" width="1.7" height="1.0" fill="#0bb3d2" opacity="0.72"/>
<rect x="272.3" y="102.8" width="1.4" height="1.2" fill="#2ec5a3" opacity="0.65"/>
<rect x="230.3" y="102.8" width="1.6" height="0.8" fill="#16bfb7" opacity="0.63"/>
<rect x="248.9" y="99.9" width="1.5" height="1.2" fill="#16bfb7" opacity="0.51"/>
<rect x="321.2" y="92.6" width="1.4" height="0.8" fill="#01b8c9" opacity="0.89"/>
<rect x="308.1" y="106.5" width="1.6" height="1.2" fill="#31c6a0" opacity="0.47"/>
<rect x="233.1" y="97.1" width="1.8" height="1.3" fill="#12b1d7" opacity="0.47"/>
<rect x="246.7" y="106.5" width="1.5" height="1.4" fill="#29c3a9" opacity="0.86"/>
<rect x="251.4" y="82.6" width="1.0" height="0.8" fill="#32c69f" opacity="0.50"/>
<rect x="243.2" y="90.9" width="1.6" height="0.9" fill="#1cc0b4" opacity="0.50"/>
<rect x="308.0" y="105.1" width="1.7" height="1.3" fill="#15afd9" opacity="0.83"/>
<rect x="289.9" y="101.0" width="1.4" height="1.3" fill="#0eb2d4" opacity="0.47"/>
<rect x="265.9" y="99.2" width="0.9" height="1.2" fill="#13b0d7" opacity="0.82"/>
<rect x="310.6" y="105.4" width="1.3" height="0.9" fill="#2ac3a8" opacity="0.54"/>
<rect x="328.5" y="103.2" width="1.4" height="1.0" fill="#0cb3d3" opacity="0.78"/>
<rect x="314.8" y="105.7" width="1.7" height="0.9" fill="#08bcbf" opacity="0.59"/>
<rect x="288.5" y="107.5" width="1.8" height="1.3" fill="#15afd8" opacity="0.48"/>
<rect x="235.3" y="101.8" width="1.5" height="1.2" fill="#1dc0b3" opacity="0.66"/>
<rect x="293.0" y="95.4" width="1.7" height="1.2" fill="#34c79b" opacity="0.86"/>
<rect x="313.4" y="99.7" width="1.5" height="0.8" fill="#2dc4a6" opacity="0.83"/>
<rect x="242.4" y="87.5" width="1.7" height="1.1" fill="#2ec5a3" opacity="0.56"/>
<rect x="255.5" y="98.5" width="1.2" height="1.0" fill="#0cb3d3" opacity="0.65"/>
<rect x="323.7" y="92.1" width="1.6" height="1.3" fill="#47cb87" opacity="0.79"/>
<rect x="252.6" y="106.1" width="1.1" height="1.0" fill="#14b0d8" opacity="0.55"/>
<rect x="258.5" y="89.3" width="1.6" height="1.3" fill="#3bc992" opacity="0.81"/>
<rect x="256.9" y="91.7" width="1.5" height="1.0" fill="#1fc0b2" opacity="0.88"/>
<rect x="240.4" y="95.4" width="1.4" height="1.2" fill="#1fc0b2" opacity="0.87"/>
<rect x="297.5" y="87.6" width="1.8" height="0.9" fill="#02b7cb" opacity="0.58"/>
<rect x="320.9" y="94.6" width="0.9" height="1.0" fill="#2fc5a3" opacity="0.90"/>
<rect x="297.2" y="102.7" width="1.5" height="1.2" fill="#31c69f" opacity="0.56"/>
<rect x="250.8" y="97.4" width="0.9" height="1.2" fill="#02b7cb" opacity="0.57"/>
<rect x="286.8" y="92.6" width="1.5" height="1.2" fill="#2ec4a4" opacity="0.59"/>
<rect x="229.9" y="104.5" width="1.0" height="0.8" fill="#07bcc0" opacity="0.51"/>
<rect x="327.7" y="98.3" width="1.5" height="1.0" fill="#32c69e" opacity="0.53"/>
<rect x="233.8" y="99.6" width="1.2" height="1.0" fill="#2dc4a5" opacity="0.65"/>
<rect x="323.7" y="107.3" width="1.2" height="1.3" fill="#13b0d7" opacity="0.82"/>
<rect x="247.4" y="103.1" width="1.7" height="1.3" fill="#2cc4a7" opacity="0.57"/>
<rect x="320.7" y="100.9" width="1.0" height="1.2" fill="#25c2ae" opacity="0.75"/>
<rect x="242.5" y="107.6" width="1.0" height="0.9" fill="#46cb88" opacity="0.62"/>
<rect x="247.1" y="99.8" width="1.0" height="0.8" fill="#38c896" opacity="0.51"/>
<rect x="327.0" y="96.3" width="1.2" height="1.2" fill="#07b5d0" opacity="0.80"/>
<rect x="235.0" y="97.5" width="1.1" height="1.3" fill="#01bac5" opacity="0.62"/>
<rect x="243.9" y="107.3" width="1.1" height="1.0" fill="#07bcbf" opacity="0.74"/>
<rect x="294.7" y="105.6" width="1.7" height="0.9" fill="#13b0d7" opacity="0.65"/>
<rect x="235.5" y="105.4" width="1.3" height="1.2" fill="#0cb3d3" opacity="0.50"/>
<rect x="247.9" y="101.3" width="1.3" height="0.9" fill="#0fb2d5" opacity="0.61"/>
<rect x="230.7" y="95.1" width="1.1" height="1.2" fill="#22c1b0" opacity="0.84"/>
<rect x="326.9" y="102.6" width="1.7" height="0.9" fill="#41ca8c" opacity="0.69"/>
<rect x="316.4" y="107.6" width="1.1" height="0.8" fill="#01b9c7" opacity="0.87"/>
<rect x="272.8" y="101.3" width="1.6" height="0.8" fill="#13beb8" opacity="0.59"/>
<rect x="262.0" y="103.5" width="1.0" height="1.4" fill="#18bfb6" opacity="0.53"/>
<rect x="224.2" y="92.4" width="1.5" height="1.1" fill="#13b0d7" opacity="0.66"/>
<rect x="248.3" y="107.2" width="1.3" height="1.2" fill="#2bc3a8" opacity="0.52"/>
<rect x="309.8" y="94.4" width="1.8" height="1.2" fill="#39c895" opacity="0.62"/>
<rect x="247.5" y="102.3" width="1.4" height="1.3" fill="#0eb3d4" opacity="0.55"/>
<rect x="226.9" y="104.0" width="1.3" height="0.9" fill="#03b7cc" opacity="0.79"/>
<rect x="266.4" y="85.4" width="1.5" height="0.8" fill="#41ca8c" opacity="0.55"/>
<rect x="330.1" y="106.0" width="1.5" height="0.9" fill="#37c898" opacity="0.54"/>
<rect x="239.5" y="52.4" width="1.3" height="1.1" fill="#14b0d8" opacity="0.74"/>
<rect x="262.9" y="81.9" width="1.3" height="1.1" fill="#0eb2d4" opacity="0.63"/>
<rect x="273.2" y="94.8" width="1.3" height="1.1" fill="#17aeda" opacity="0.69"/>
<rect x="274.0" y="96.5" width="1.3" height="1.1" fill="#13b1d7" opacity="0.56"/>
<rect x="254.6" y="72.3" width="1.3" height="1.1" fill="#18aedb" opacity="0.48"/>
<rect x="269.8" y="92.3" width="1.3" height="1.1" fill="#17aedb" opacity="0.45"/>
<rect x="256.0" y="73.6" width="1.3" height="1.1" fill="#09bcbe" opacity="0.42"/>
<rect x="265.9" y="85.0" width="1.3" height="1.1" fill="#02b7cb" opacity="0.56"/>
<rect x="259.9" y="79.5" width="1.3" height="1.1" fill="#01b9c7" opacity="0.70"/>
<rect x="241.0" y="53.7" width="1.3" height="1.1" fill="#0dbdbc" opacity="0.54"/>
<rect x="272.2" y="95.2" width="1.3" height="1.1" fill="#19addc" opacity="0.41"/>
<rect x="264.0" y="82.9" width="1.3" height="1.1" fill="#0fbebb" opacity="0.70"/>
<rect x="259.5" y="77.9" width="1.3" height="1.1" fill="#07bcc0" opacity="0.68"/>
<rect x="251.5" y="67.7" width="1.3" height="1.1" fill="#19addc" opacity="0.49"/>
<rect x="251.3" y="67.7" width="1.3" height="1.1" fill="#04bbc2" opacity="0.71"/>
<rect x="240.8" y="53.2" width="1.3" height="1.1" fill="#1aacdd" opacity="0.71"/>
<rect x="254.3" y="70.3" width="1.3" height="1.1" fill="#01b9c6" opacity="0.49"/>
<rect x="265.8" y="85.5" width="1.3" height="1.1" fill="#04b6cd" opacity="0.64"/>
<rect x="271.5" y="93.7" width="1.3" height="1.1" fill="#01b8c9" opacity="0.57"/>
<rect x="250.8" y="67.7" width="1.3" height="1.1" fill="#1baade" opacity="0.57"/>
<rect x="250.6" y="67.2" width="1.3" height="1.1" fill="#01b8c8" opacity="0.46"/>
<rect x="240.9" y="55.2" width="1.3" height="1.1" fill="#14b0d8" opacity="0.55"/>
<rect x="241.0" y="53.5" width="1.3" height="1.1" fill="#0ab4d1" opacity="0.74"/>
<rect x="242.9" y="56.1" width="1.3" height="1.1" fill="#02bac4" opacity="0.53"/>
<rect x="251.1" y="68.0" width="1.3" height="1.1" fill="#18addb" opacity="0.48"/>
<rect x="266.6" y="86.1" width="1.3" height="1.1" fill="#1babde" opacity="0.45"/>
<rect x="248.6" y="78.2" width="1.3" height="1.1" fill="#1aacdd" opacity="0.60"/>
<rect x="251.5" y="81.3" width="1.3" height="1.1" fill="#08b4d0" opacity="0.46"/>
<rect x="244.3" y="73.7" width="1.3" height="1.1" fill="#01b9c7" opacity="0.46"/>
<rect x="250.7" y="81.4" width="1.3" height="1.1" fill="#02bbc3" opacity="0.69"/>
<rect x="235.1" y="68.5" width="1.3" height="1.1" fill="#01b9c6" opacity="0.74"/>
<rect x="260.7" y="88.4" width="1.3" height="1.1" fill="#11b1d5" opacity="0.49"/>
<rect x="224.8" y="60.6" width="1.3" height="1.1" fill="#07bcc0" opacity="0.71"/>
<rect x="238.1" y="69.6" width="1.3" height="1.1" fill="#1baade" opacity="0.59"/>
<rect x="230.3" y="63.8" width="1.3" height="1.1" fill="#1aacdd" opacity="0.40"/>
<rect x="262.0" y="89.2" width="1.3" height="1.1" fill="#1baadf" opacity="0.48"/>
<rect x="256.8" y="85.2" width="1.3" height="1.1" fill="#11beba" opacity="0.41"/>
<rect x="265.4" y="92.5" width="1.3" height="1.1" fill="#0fbeba" opacity="0.45"/>
<rect x="252.7" y="81.6" width="1.3" height="1.1" fill="#0fb2d5" opacity="0.55"/>
<rect x="244.5" y="74.6" width="1.3" height="1.1" fill="#1aabdd" opacity="0.43"/>
<rect x="262.7" y="87.9" width="1.3" height="1.1" fill="#01b8c9" opacity="0.64"/>
<rect x="256.9" y="85.6" width="1.3" height="1.1" fill="#02bac5" opacity="0.52"/>
<rect x="243.7" y="73.8" width="1.3" height="1.1" fill="#0cbdbc" opacity="0.60"/>
<rect x="269.1" y="92.9" width="1.3" height="1.1" fill="#01b9c6" opacity="0.53"/>
<rect x="230.8" y="64.1" width="1.3" height="1.1" fill="#04bbc2" opacity="0.68"/>
<rect x="266.6" y="92.3" width="1.3" height="1.1" fill="#16afd9" opacity="0.65"/>
<rect x="225.8" y="61.9" width="1.3" height="1.1" fill="#14b0d8" opacity="0.43"/>
<rect x="233.9" y="67.4" width="1.3" height="1.1" fill="#18aedb" opacity="0.47"/>
<rect x="238.5" y="69.6" width="1.3" height="1.1" fill="#01b8c9" opacity="0.48"/>
<rect x="257.1" y="84.7" width="1.3" height="1.1" fill="#04b6cd" opacity="0.65"/>
<rect x="270.2" y="95.5" width="1.3" height="1.1" fill="#14b0d8" opacity="0.50"/>
<rect x="302.1" y="68.8" width="1.3" height="1.1" fill="#01b8c9" opacity="0.72"/>
<rect x="287.1" y="86.7" width="1.3" height="1.1" fill="#01b9c7" opacity="0.49"/>
<rect x="285.4" y="88.5" width="1.3" height="1.1" fill="#02bbc3" opacity="0.69"/>
<rect x="304.7" y="66.3" width="1.3" height="1.1" fill="#04bbc2" opacity="0.51"/>
<rect x="290.9" y="83.1" width="1.3" height="1.1" fill="#1aabdd" opacity="0.61"/>
<rect x="283.1" y="91.0" width="1.3" height="1.1" fill="#05b6cd" opacity="0.45"/>
<rect x="312.1" y="56.6" width="1.3" height="1.1" fill="#07b5cf" opacity="0.47"/>
<rect x="284.1" y="91.0" width="1.3" height="1.1" fill="#04b6cd" opacity="0.53"/>
<rect x="304.7" y="65.0" width="1.3" height="1.1" fill="#03bbc3" opacity="0.44"/>
<rect x="282.4" y="92.8" width="1.3" height="1.1" fill="#06b5cf" opacity="0.49"/>
<rect x="303.1" y="66.2" width="1.3" height="1.1" fill="#10b2d5" opacity="0.57"/>
<rect x="304.6" y="65.9" width="1.3" height="1.1" fill="#0cb3d3" opacity="0.56"/>
<rect x="312.0" y="57.0" width="1.3" height="1.1" fill="#01b8c9" opacity="0.44"/>
<rect x="295.7" y="76.7" width="1.3" height="1.1" fill="#12b1d6" opacity="0.41"/>
<rect x="313.8" y="54.6" width="1.3" height="1.1" fill="#18addb" opacity="0.56"/>
<rect x="301.4" y="68.5" width="1.3" height="1.1" fill="#1aacdd" opacity="0.66"/>
<rect x="306.6" y="62.3" width="1.3" height="1.1" fill="#19acdc" opacity="0.54"/>
<rect x="283.2" y="93.5" width="1.3" height="1.1" fill="#1aabdd" opacity="0.50"/>
<rect x="306.5" y="61.5" width="1.3" height="1.1" fill="#19addc" opacity="0.42"/>
<rect x="285.7" y="89.1" width="1.3" height="1.1" fill="#06bcc0" opacity="0.46"/>
<rect x="286.0" y="89.4" width="1.3" height="1.1" fill="#09b4d1" opacity="0.52"/>
<rect x="284.3" y="90.0" width="1.3" height="1.1" fill="#0fbeba" opacity="0.44"/>
<rect x="289.0" y="85.6" width="1.3" height="1.1" fill="#09bdbe" opacity="0.72"/>
<rect x="296.3" y="76.9" width="1.3" height="1.1" fill="#01b8ca" opacity="0.50"/>
<rect x="296.1" y="76.5" width="1.3" height="1.1" fill="#02bac4" opacity="0.45"/>
<rect x="286.7" y="89.1" width="1.3" height="1.1" fill="#19addc" opacity="0.68"/>
<rect x="301.5" y="80.6" width="1.3" height="1.1" fill="#13b0d7" opacity="0.56"/>
<rect x="291.9" y="89.4" width="1.3" height="1.1" fill="#0eb2d4" opacity="0.47"/>
<rect x="306.1" y="78.9" width="1.3" height="1.1" fill="#08bcbf" opacity="0.60"/>
<rect x="282.6" y="96.5" width="1.3" height="1.1" fill="#01b8ca" opacity="0.71"/>
<rect x="330.8" y="60.1" width="1.3" height="1.1" fill="#12b1d7" opacity="0.53"/>
<rect x="303.5" y="79.4" width="1.3" height="1.1" fill="#0cb3d3" opacity="0.44"/>
<rect x="295.1" y="87.5" width="1.3" height="1.1" fill="#0ab4d1" opacity="0.62"/>
<rect x="296.1" y="86.8" width="1.3" height="1.1" fill="#04bbc2" opacity="0.75"/>
<rect x="323.9" y="65.1" width="1.3" height="1.1" fill="#05bbc1" opacity="0.49"/>
<rect x="319.7" y="67.2" width="1.3" height="1.1" fill="#06bcc0" opacity="0.45"/>
<rect x="313.0" y="72.1" width="1.3" height="1.1" fill="#05bbc1" opacity="0.52"/>
<rect x="330.5" y="60.4" width="1.3" height="1.1" fill="#09bcbe" opacity="0.45"/>
<rect x="320.9" y="67.1" width="1.3" height="1.1" fill="#1aabdd" opacity="0.70"/>
<rect x="313.5" y="72.1" width="1.3" height="1.1" fill="#0eb2d4" opacity="0.67"/>
<rect x="327.0" y="63.1" width="1.3" height="1.1" fill="#15afd8" opacity="0.52"/>
<rect x="296.3" y="84.1" width="1.3" height="1.1" fill="#0fb2d5" opacity="0.41"/>
<rect x="327.8" y="60.6" width="1.3" height="1.1" fill="#1aacdd" opacity="0.42"/>
<rect x="324.6" y="62.9" width="1.3" height="1.1" fill="#07b5cf" opacity="0.54"/>
<rect x="328.1" y="62.5" width="1.3" height="1.1" fill="#10b2d5" opacity="0.62"/>
<path d="M296.0 8.4 L297.0 18.0 L298.5 28.0 L300.3 39.0 L300.6 55.0 L300.2 66.0 L299.0 72.0 L296.5 78.0" fill="none" stroke="#21c1b0" stroke-width="1.00" stroke-linecap="butt" stroke-linejoin="round" opacity="0.90"/>
<path d="M292.3 79.5 L289.5 81.0 L288.2 84.0 L288.6 88.0 L289.8 92.6" fill="none" stroke="#7acc5d" stroke-width="1.00" stroke-linecap="butt" stroke-linejoin="round"/>
<circle cx="285.0" cy="93.6" r="0.9" fill="#f7dc2a"/>
<circle cx="281.3" cy="95.2" r="0.9" fill="#f7dc2a"/>
<circle cx="281.2" cy="101.7" r="0.9" fill="#f7dc2a"/>
<circle cx="279.6" cy="104.5" r="0.9" fill="#f7dc2a"/>
<path d="M277.0 8.4 L277.0 107.6" fill="none" stroke="#2fc5a2" stroke-width="3.40" stroke-linecap="butt" stroke-linejoin="round" opacity="0.45"/>
<path d="M277.0 8.4 L277.0 9.9 L277.0 11.4 L277.0 12.9 L277.0 14.4 L277.0 15.9 L277.0 17.4 L277.0 18.9 L277.0 20.4 L277.0 21.9 L277.0 23.4 L277.0 24.9 L277.0 26.4 L277.0 27.9 L277.0 29.4 L277.0 30.9 L277.0 32.4 L277.0 33.9 L277.0 35.4 L277.0 36.9 L277.0 38.4 L277.0 39.9 L277.0 41.4 L277.0 42.9 L277.0 44.4 L277.0 45.9 L277.0 47.4 L277.0 48.9 L277.0 50.4 L277.0 51.9 L277.0 53.4 L277.0 54.9 L277.0 56.4 L277.1 57.9 L277.0 59.4 L277.0 60.9 L277.0 62.4 L277.1 63.9 L277.0 65.4 L277.0 66.9 L277.0 68.4 L277.0 69.9 L277.0 71.4 L277.0 72.9 L277.0 74.4 L277.0 75.9 L277.0 77.4 L277.0 78.9 L277.1 80.4 L277.1 81.9 L277.1 83.4 L277.0 84.9 L277.1 86.4 L277.0 87.9 L277.1 89.4 L277.1 90.9 L277.0 92.4 L277.1 93.9 L277.0 95.4 L276.9 96.9 L277.0 98.4 L277.0 99.9 L277.1 101.4 L277.1 102.9 L277.1 104.4 L277.1 105.9 L277.1 107.4" fill="none" stroke="#f5e825" stroke-width="1.45" stroke-linecap="butt" stroke-linejoin="round" opacity="0.92"/>
<path d="M277.0 92.0 L277.0 107.6" fill="none" stroke="#f5e825" stroke-width="1.90" stroke-linecap="butt" stroke-linejoin="round" opacity="0.60"/>
<path d="M277.0 100.0 L277.2 107.6" fill="none" stroke="#f5e825" stroke-width="2.60" stroke-linecap="butt" stroke-linejoin="round" opacity="0.70"/>
</g></g>
<text class="t" text-anchor="end" transform="translate(219.80 12.80) scale(0.88 1)">0</text>
<text class="t" text-anchor="end" transform="translate(219.80 43.00) scale(0.88 1)">20</text>
<text class="t" text-anchor="end" transform="translate(219.80 73.10) scale(0.88 1)">40</text>
<text class="t" text-anchor="end" transform="translate(219.80 103.30) scale(0.88 1)">60</text>
<text class="t" text-anchor="middle" transform="translate(245.30 119.70) scale(0.88 1)">−20</text>
<text class="t" text-anchor="middle" transform="translate(277.30 119.70) scale(0.88 1)">0</text>
<text class="t" text-anchor="middle" transform="translate(309.50 119.70) scale(0.88 1)">20</text>
<text class="cbt" text-anchor="start" transform="translate(345.20 15.35) scale(0.88 1)">24</text>
<text class="cbt" text-anchor="start" transform="translate(345.20 29.80) scale(0.88 1)">22</text>
<text class="cbt" text-anchor="start" transform="translate(345.20 44.25) scale(0.88 1)">20</text>
<text class="cbt" text-anchor="start" transform="translate(345.20 58.70) scale(0.88 1)">18</text>
<text class="cbt" text-anchor="start" transform="translate(345.20 73.15) scale(0.88 1)">16</text>
<text class="cbt" text-anchor="start" transform="translate(345.20 87.60) scale(0.88 1)">14</text>
<text class="cbt" text-anchor="start" transform="translate(345.20 102.05) scale(0.88 1)">12</text>
<text class="l" text-anchor="middle" letter-spacing="0.15" transform="translate(206.60 58.80) rotate(-90)">Time(s)</text>
<text x="277.60" y="130.90" class="l" text-anchor="middle" letter-spacing="0.10">Velosity(m/s)</text>
<text x="276.50" y="150.00" class="c" text-anchor="middle">(<tspan font-weight="bold">b</tspan>)</text>
<clipPath id="cp_c"><rect x="417.00" y="8.40" width="106.00" height="99.20"/></clipPath>
<rect x="417.00" y="8.40" width="106.00" height="99.20" fill="#259be8"/>
<rect x="526.40" y="8.40" width="7.00" height="99.20" fill="url(#pg)"/>
<g clip-path="url(#cp_c)">
<rect x="417.00" y="8.40" width="106.00" height="99.20" filter="url(#nz)" opacity="0.22"/>
<rect x="417.00" y="8.40" width="106.00" height="99.20" filter="url(#nd)" opacity="0.18"/>
<g filter="url(#b1)">
<path d="M470.0 8.4 L470.0 107.6" fill="none" stroke="#12beb9" stroke-width="2.60" stroke-linecap="butt" stroke-linejoin="round" opacity="0.40"/>
<path d="M470.1 8.4 L470.1 9.9 L470.1 11.4 L470.1 12.9 L470.1 14.4 L470.1 15.9 L470.1 17.4 L470.1 18.9 L470.1 20.4 L470.1 21.9 L470.1 23.4 L470.0 24.9 L470.0 26.4 L470.1 27.9 L470.1 29.4 L470.1 30.9 L470.1 32.4 L470.1 33.9 L470.1 35.4 L470.1 36.9 L470.1 38.4 L470.1 39.9 L470.1 41.4 L470.1 42.9 L470.1 44.4 L470.1 45.9 L470.1 47.4 L470.1 48.9 L470.1 50.4 L470.2 51.9 L470.1 53.4 L470.1 54.9 L470.1 56.4 L470.1 57.9 L470.0 59.4 L470.1 60.9 L470.1 62.4 L470.1 63.9 L470.1 65.4 L470.1 66.9 L470.1 68.4 L470.1 69.9 L470.1 71.4 L470.1 72.9 L470.1 74.4 L470.0 75.9 L470.1 77.4 L470.1 78.9 L470.1 80.4 L470.1 81.9 L470.0 83.4 L470.0 84.9 L470.0 86.4 L470.0 87.9 L470.1 89.4 L470.0 90.9 L470.1 92.4 L470.1 93.9 L470.1 95.4 L470.1 96.9 L470.2 98.4 L470.1 99.9 L470.1 101.4 L470.1 102.9 L470.1 104.4 L470.0 105.9 L470.0 107.4" fill="none" stroke="#a8c73b" stroke-width="1.15" stroke-linecap="butt" stroke-linejoin="round" opacity="0.90"/>
<path d="M476.0 8.4 L475.4 13.0 L474.5 17.5 L473.4 20.0 L472.1 21.6 L470.5 22.7" fill="none" stroke="#7acc5d" stroke-width="1.00" stroke-linecap="butt" stroke-linejoin="round" opacity="0.90"/>
<path d="M465.0 23.3 L461.5 23.8 L458.8 24.4 L456.0 25.5 L453.3 27.1 L452.1 28.8 L451.4 30.5 L450.8 33.0 L450.4 36.0 L449.7 40.4 L449.4 50.0 L449.4 60.0" fill="none" stroke="#58cc79" stroke-width="1.00" stroke-linecap="butt" stroke-linejoin="round" opacity="0.85"/>
<path d="M449.4 60.0 L449.7 107.6" fill="none" stroke="#3bc992" stroke-width="0.90" stroke-linecap="butt" stroke-linejoin="round" opacity="0.75"/>
</g></g>
<text class="t" text-anchor="end" transform="translate(414.80 12.70) scale(0.88 1)">0</text>
<text class="t" text-anchor="end" transform="translate(414.80 29.40) scale(0.88 1)">20</text>
<text class="t" text-anchor="end" transform="translate(414.80 46.00) scale(0.88 1)">40</text>
<text class="t" text-anchor="end" transform="translate(414.80 62.60) scale(0.88 1)">60</text>
<text class="t" text-anchor="end" transform="translate(414.80 79.20) scale(0.88 1)">80</text>
<text class="t" text-anchor="end" transform="translate(414.80 95.80) scale(0.88 1)">100</text>
<text class="t" text-anchor="middle" transform="translate(439.00 119.70) scale(0.88 1)">−20</text>
<text class="t" text-anchor="middle" transform="translate(470.00 119.70) scale(0.88 1)">0</text>
<text class="t" text-anchor="middle" transform="translate(501.00 119.70) scale(0.88 1)">20</text>
<text class="cbt" text-anchor="start" transform="translate(536.00 41.15) scale(0.88 1)">20</text>
<text class="cbt" text-anchor="start" transform="translate(536.00 75.65) scale(0.88 1)">15</text>
<text class="cbt" text-anchor="start" transform="translate(536.00 109.75) scale(0.88 1)">10</text>
<text class="l" text-anchor="middle" letter-spacing="0.00" transform="translate(397.40 58.50) rotate(-90)">Time(s)</text>
<text x="470.20" y="130.90" class="l" text-anchor="middle" letter-spacing="0.10">Velosity(m/s)</text>
<text x="467.00" y="150.00" class="c" text-anchor="middle">(<tspan font-weight="bold">c</tspan>)</text>
<clipPath id="cp_d"><rect x="32.70" y="177.60" width="106.20" height="99.00"/></clipPath>
<rect x="32.70" y="177.60" width="106.20" height="99.00" fill="#1fa6e2"/>
<rect x="142.00" y="177.60" width="6.80" height="99.00" fill="url(#pg)"/>
<g clip-path="url(#cp_d)">
<rect x="32.70" y="177.60" width="106.20" height="99.00" filter="url(#nz)" opacity="0.12"/>
<rect x="32.70" y="177.60" width="106.20" height="99.00" filter="url(#nd)" opacity="0.10"/>
<g filter="url(#b1)">
<path d="M85.6 177.6 L85.6 276.6" fill="none" stroke="#12beb9" stroke-width="1.80" stroke-linecap="butt" stroke-linejoin="round" opacity="0.25"/>
<path d="M85.6 177.6 L85.6 276.6" fill="none" stroke="#7acc5d" stroke-width="0.80" stroke-linecap="butt" stroke-linejoin="round" opacity="0.85"/>
<circle cx="85.6" cy="196.5" r="1.0" fill="#58cc79"/>
<path d="M95.0 177.6 L95.4 178.9 L95.1 180.2 L94.9 181.4 L95.0 182.7 L95.0 184.0 L95.3 185.2 L95.1 186.4 L94.7 187.6 L95.2 188.8 L95.2 190.0 L94.7 191.4 L95.3 192.8 L95.5 194.2 L95.3 195.6 L95.5 197.0 L95.4 198.8 L94.7 200.5 L93.7 201.3 L92.7 202.2 L92.0 203.0 L92.4 204.2 L92.9 205.5 L94.3 206.5 L94.9 207.5 L94.9 208.8 L95.4 210.1 L95.6 211.4 L95.6 212.7 L95.7 214.0 L95.3 215.3 L95.7 216.7 L95.5 218.0 L95.3 219.3 L94.9 220.7 L94.7 222.0 L95.5 223.3 L95.7 224.6 L95.1 225.9 L95.2 227.1 L95.5 228.4 L95.7 229.7 L95.6 231.0 L96.0 232.3 L95.6 233.6 L95.6 234.9 L95.9 236.1 L95.7 237.4 L95.4 238.7 L95.1 240.0 L94.9 241.3 L95.0 242.7 L95.1 244.0 L94.6 245.3 L94.4 246.7 L94.2 248.0 L94.1 249.3 L94.4 250.6 L94.1 251.9 L93.7 253.1 L93.5 254.4 L93.8 255.7 L93.4 257.0" fill="none" stroke="#04bbc2" stroke-width="2.00" stroke-linecap="butt" stroke-linejoin="round" opacity="0.22"/>
<path d="M95.0 177.6 L95.4 178.9 L95.1 180.2 L94.9 181.4 L95.0 182.7 L95.0 184.0 L95.3 185.2 L95.1 186.4 L94.7 187.6 L95.2 188.8 L95.2 190.0 L94.7 191.4 L95.3 192.8 L95.5 194.2 L95.3 195.6 L95.5 197.0 L95.4 198.8 L94.7 200.5 L93.7 201.3 L92.7 202.2 L92.0 203.0 L92.4 204.2 L92.9 205.5 L94.3 206.5 L94.9 207.5 L94.9 208.8 L95.4 210.1 L95.6 211.4 L95.6 212.7 L95.7 214.0 L95.3 215.3 L95.7 216.7 L95.5 218.0 L95.3 219.3 L94.9 220.7 L94.7 222.0 L95.5 223.3 L95.7 224.6 L95.1 225.9 L95.2 227.1 L95.5 228.4 L95.7 229.7 L95.6 231.0 L96.0 232.3 L95.6 233.6 L95.6 234.9 L95.9 236.1 L95.7 237.4 L95.4 238.7 L95.1 240.0 L94.9 241.3 L95.0 242.7 L95.1 244.0 L94.6 245.3 L94.4 246.7 L94.2 248.0 L94.1 249.3 L94.4 250.6 L94.1 251.9 L93.7 253.1 L93.5 254.4 L93.8 255.7 L93.4 257.0" fill="none" stroke="#3eca8f" stroke-width="1.20" stroke-linecap="butt" stroke-linejoin="round" opacity="0.95" stroke-dasharray="3 0.8 2 0.7 4 1"/>
<path d="M93.2 257.0 L92.4 258.0 L91.1 259.0 L90.0 260.0 L88.9 261.0 L89.5 262.2 L89.5 263.5 L89.6 264.8 L89.6 266.0 L88.5 267.0 L87.7 268.0 L86.6 269.0 L85.6 269.9 L84.5 270.9 L83.1 271.8 L83.9 273.2 L84.1 274.6 L85.6 275.1 L86.5 275.6" fill="none" stroke="#60cd72" stroke-width="1.20" stroke-linecap="butt" stroke-linejoin="round" opacity="0.95"/>
</g></g>
<text class="t" text-anchor="end" transform="translate(30.50 181.80) scale(0.88 1)">0</text>
<text class="t" text-anchor="end" transform="translate(30.50 208.70) scale(0.88 1)">50</text>
<text class="t" text-anchor="end" transform="translate(30.50 235.60) scale(0.88 1)">100</text>
<text class="t" text-anchor="end" transform="translate(30.50 262.50) scale(0.88 1)">150</text>
<text class="t" text-anchor="middle" transform="translate(47.40 288.45) scale(0.88 1)">−50</text>
<text class="t" text-anchor="middle" transform="translate(85.90 288.45) scale(0.88 1)">0</text>
<text class="t" text-anchor="middle" transform="translate(124.40 288.45) scale(0.88 1)">50</text>
<text class="cbt" text-anchor="start" transform="translate(151.60 208.15) scale(0.88 1)">20</text>
<text class="cbt" text-anchor="start" transform="translate(151.60 242.55) scale(0.88 1)">15</text>
<text class="cbt" text-anchor="start" transform="translate(151.60 276.75) scale(0.88 1)">10</text>
<text class="l" text-anchor="middle" letter-spacing="0.00" transform="translate(12.90 227.20) rotate(-90)">Time(s)</text>
<text x="86.00" y="299.90" class="l" text-anchor="middle" letter-spacing="0.07">Velosity(m/s)</text>
<text x="82.70" y="318.30" class="c" text-anchor="middle">(<tspan font-weight="bold">d</tspan>)</text>
<clipPath id="cp_e"><rect x="206.00" y="177.60" width="105.60" height="99.00"/></clipPath>
<rect x="206.00" y="177.60" width="105.60" height="99.00" fill="#259ce7"/>
<rect x="315.00" y="177.60" width="7.00" height="99.00" fill="url(#pg)"/>
<g clip-path="url(#cp_e)">
<rect x="206" y="236" width="106" height="41" fill="#2797eb" opacity="0.6"/>
<rect x="206.00" y="177.60" width="105.60" height="99.00" filter="url(#nz)" opacity="0.20"/>
<rect x="206.00" y="177.60" width="105.60" height="99.00" filter="url(#nd)" opacity="0.16"/>
<g filter="url(#b1)">
<path d="M243.0 207.0 L276.0 207.0" fill="none" stroke="#01b9c6" stroke-width="1.60" stroke-linecap="butt" stroke-linejoin="round" opacity="0.70"/>
<path d="M250.0 207.0 L268.0 207.0" fill="none" stroke="#2fc5a2" stroke-width="1.50" stroke-linecap="butt" stroke-linejoin="round" opacity="0.80"/>
<path d="M258.9 177.6 L258.9 276.6" fill="none" stroke="#12beb9" stroke-width="4.40" stroke-linecap="butt" stroke-linejoin="round" opacity="0.45"/>
<path d="M258.9 177.6 L258.9 276.6" fill="none" stroke="#58cc79" stroke-width="2.30" stroke-linecap="butt" stroke-linejoin="round" opacity="0.80"/>
<path d="M258.9 177.6 L258.9 179.1 L258.9 180.6 L258.9 182.1 L258.9 183.6 L258.9 185.1 L258.9 186.6 L258.9 188.1 L258.9 189.6 L259.0 191.1 L258.9 192.6 L258.9 194.1 L258.8 195.6 L258.8 197.1 L258.9 198.6 L258.9 200.1 L258.9 201.6 L258.9 203.1 L258.8 204.6 L258.9 206.1 L258.9 207.6 L258.9 209.1 L258.9 210.6 L258.9 212.1 L258.9 213.6 L258.9 215.1 L258.9 216.6 L258.9 218.1 L258.9 219.6 L259.0 221.1 L258.9 222.6 L258.9 224.1 L258.9 225.6 L258.9 227.1 L258.9 228.6 L258.9 230.1 L258.9 231.6 L258.9 233.1 L258.9 234.6 L258.9 236.1 L258.9 237.6 L258.9 239.1 L258.9 240.6 L258.9 242.1 L258.9 243.6 L258.9 245.1 L258.9 246.6 L258.9 248.1 L258.9 249.6 L258.9 251.1 L259.0 252.6 L258.9 254.1 L258.9 255.6 L258.9 257.1 L258.9 258.6 L258.9 260.1 L258.9 261.6 L258.9 263.1 L258.9 264.6 L258.9 266.1 L258.9 267.6 L258.9 269.1 L258.9 270.6 L258.9 272.1 L258.9 273.6 L258.9 275.1 L258.9 276.6" fill="none" stroke="#f5e427" stroke-width="1.25" stroke-linecap="butt" stroke-linejoin="round" opacity="0.90"/>
<path d="M275.9 177.6 L276.1 178.9 L276.3 180.3 L276.3 181.7 L276.2 183.0 L276.2 184.5 L276.3 186.0 L276.6 187.5 L275.8 188.4 L274.9 189.3 L274.0 190.2 L273.2 191.1 L272.2 192.0 L271.0 192.7 L270.1 193.4 L268.9 194.1 L268.0 194.9 L266.8 195.6 L266.1 196.3 L265.0 197.0 L265.4 198.5 L266.2 200.0 L266.6 201.0 L267.7 202.0 L268.4 203.0 L268.9 204.0 L269.8 205.2 L270.6 206.5 L271.5 207.8 L272.1 209.0 L272.5 210.2 L273.2 211.3 L273.4 212.4 L274.1 213.6 L272.8 214.4 L271.8 215.3 L270.7 216.2 L270.1 217.0 L269.2 218.2 L268.5 219.4 L269.1 220.9 L270.0 222.5" fill="none" stroke="#12beb9" stroke-width="1.00" stroke-linecap="butt" stroke-linejoin="round" opacity="0.80"/>
<path d="M270.1 222.5 L270.9 223.8 L271.5 225.0 L270.8 226.0 L270.1 227.0 L269.2 228.0 L268.5 229.0 L267.9 230.5 L267.4 232.0 L267.1 233.3 L266.7 234.5 L266.3 235.8 L266.7 236.9 L267.4 237.9 L268.1 239.0 L268.6 240.7 L269.0 242.4 L267.8 243.3 L266.4 244.1 L265.2 245.0 L264.3 246.2 L263.4 247.3 L263.8 248.5 L263.9 249.7 L264.3 250.8 L264.3 252.0 L264.7 253.2 L264.8 254.5 L265.0 255.8 L264.9 257.0 L263.8 258.0 L262.5 259.0 L261.6 260.0 L261.1 261.0 L261.7 262.2 L262.6 263.3 L263.3 264.5 L262.3 265.8 L261.2 267.0 L261.9 267.8 L262.9 268.5 L264.0 269.2 L265.1 270.0 L264.4 271.5 L263.5 273.0 L262.8 274.1 L261.8 275.2" fill="none" stroke="#2cc4a7" stroke-width="1.00" stroke-linecap="butt" stroke-linejoin="round" opacity="0.90"/>
</g></g>
<text class="t" text-anchor="end" transform="translate(203.60 181.80) scale(0.88 1)">0</text>
<text class="t" text-anchor="end" transform="translate(203.60 209.40) scale(0.88 1)">50</text>
<text class="t" text-anchor="end" transform="translate(203.60 237.20) scale(0.88 1)">100</text>
<text class="t" text-anchor="end" transform="translate(203.60 265.10) scale(0.88 1)">150</text>
<text class="t" text-anchor="middle" transform="translate(228.00 288.45) scale(0.88 1)">−20</text>
<text class="t" text-anchor="middle" transform="translate(259.00 288.45) scale(0.88 1)">0</text>
<text class="t" text-anchor="middle" transform="translate(289.80 288.45) scale(0.88 1)">20</text>
<text class="cbt" text-anchor="start" transform="translate(324.60 211.15) scale(0.88 1)">20</text>
<text class="cbt" text-anchor="start" transform="translate(324.60 244.15) scale(0.88 1)">15</text>
<text class="cbt" text-anchor="start" transform="translate(324.60 277.15) scale(0.88 1)">10</text>
<text class="l" text-anchor="middle" letter-spacing="0.00" transform="translate(186.10 227.40) rotate(-90)">Time(s)</text>
<text x="258.90" y="299.90" class="l" text-anchor="middle" letter-spacing="0.07">Velosity(m/s)</text>
<text x="256.00" y="318.20" class="c" text-anchor="middle">(<tspan font-weight="bold">e</tspan>)</text>
<clipPath id="cp_f"><rect x="379.40" y="177.60" width="105.60" height="99.00"/></clipPath>
<rect x="379.40" y="177.60" width="105.60" height="99.00" fill="#2d8df2"/>
<rect x="488.40" y="177.60" width="7.00" height="99.00" fill="url(#pg)"/>
<g clip-path="url(#cp_f)">
<linearGradient id="gfb" x1="0" y1="0" x2="0" y2="1"><stop offset="0" stop-color="#2f81fa" stop-opacity="0"/><stop offset="0.45" stop-color="#2f81fa" stop-opacity="0"/><stop offset="0.75" stop-color="#2f81fa" stop-opacity="0.55"/><stop offset="0.92" stop-color="#2e85f8" stop-opacity="0.45"/><stop offset="0.955" stop-color="#1caadf" stop-opacity="0.35"/><stop offset="1" stop-color="#11b1d6" stop-opacity="0.8"/></linearGradient>
<rect x="379.4" y="177.60" width="106" height="99.00" fill="url(#gfb)"/>
<g filter="url(#b3)" opacity="0.55"><path d="M436 177 L460 177 L459 215 L461 250 L452 277 L433 277 L434 230 Z" fill="#1fa6e2"/></g>
<g filter="url(#b3)" opacity="0.5"><ellipse cx="436" cy="275" rx="14" ry="5" fill="#05b6ce"/></g>
<rect x="379.40" y="177.60" width="105.60" height="99.00" filter="url(#nz)" opacity="0.18"/>
<rect x="379.40" y="177.60" width="105.60" height="99.00" filter="url(#nd)" opacity="0.25"/>
<g filter="url(#b1)">
<linearGradient id="gf" gradientUnits="userSpaceOnUse" x1="0" y1="177" x2="0" y2="277"><stop offset="0" stop-color="#93b48e"/><stop offset="0.6" stop-color="#acb472"/><stop offset="1" stop-color="#dcca40"/></linearGradient>
<path d="M432.3 177.6 L432.4 276.6" fill="none" stroke="url(#gf)" stroke-width="1.05" stroke-linecap="butt" stroke-linejoin="round" opacity="0.95"/>
<rect x="447.0" y="177.3" width="1.21" height="1.07" fill="#1da9e0" opacity="0.68"/>
<rect x="445.3" y="179.4" width="1.06" height="1.34" fill="#1caadf" opacity="0.67"/>
<rect x="452.4" y="179.9" width="1.23" height="1.31" fill="#15afd9" opacity="0.38"/>
<rect x="446.3" y="181.4" width="1.31" height="1.26" fill="#1baade" opacity="0.51"/>
<rect x="448.6" y="185.5" width="1.24" height="1.11" fill="#1da9e0" opacity="0.40"/>
<rect x="446.3" y="183.3" width="1.07" height="1.09" fill="#11b1d6" opacity="0.62"/>
<rect x="450.6" y="183.7" width="1.47" height="1.37" fill="#1da8e0" opacity="0.55"/>
<rect x="452.6" y="185.2" width="1.23" height="1.06" fill="#1fa5e2" opacity="0.42"/>
<rect x="443.5" y="187.0" width="1.31" height="1.09" fill="#01b9c8" opacity="0.57"/>
<rect x="442.8" y="188.0" width="1.31" height="1.09" fill="#0eb2d4" opacity="0.46"/>
<rect x="445.3" y="188.9" width="0.93" height="1.17" fill="#1caadf" opacity="0.53"/>
<rect x="455.3" y="186.2" width="1.30" height="1.23" fill="#01b8c9" opacity="0.70"/>
<rect x="444.5" y="192.9" width="1.48" height="1.06" fill="#10b2d5" opacity="0.35"/>
<rect x="444.1" y="191.9" width="1.26" height="1.30" fill="#20a5e2" opacity="0.42"/>
<rect x="445.3" y="190.8" width="1.07" height="1.33" fill="#12b1d7" opacity="0.46"/>
<rect x="441.7" y="194.2" width="1.32" height="0.95" fill="#03b7cc" opacity="0.69"/>
<rect x="444.6" y="189.6" width="1.13" height="1.22" fill="#01b9c8" opacity="0.70"/>
<rect x="438.8" y="197.1" width="1.01" height="1.25" fill="#11b1d6" opacity="0.48"/>
<rect x="440.6" y="197.7" width="1.01" height="1.19" fill="#04b6cd" opacity="0.41"/>
<rect x="443.4" y="196.5" width="1.24" height="1.11" fill="#11b1d6" opacity="0.36"/>
<rect x="440.7" y="194.9" width="1.06" height="1.30" fill="#1baade" opacity="0.38"/>
<rect x="442.8" y="196.2" width="1.11" height="1.27" fill="#1caadf" opacity="0.58"/>
<rect x="433.4" y="200.3" width="1.02" height="0.95" fill="#1ea7e1" opacity="0.47"/>
<rect x="440.3" y="198.9" width="1.16" height="1.06" fill="#13b1d7" opacity="0.68"/>
<rect x="442.1" y="199.2" width="1.44" height="1.24" fill="#16afd9" opacity="0.41"/>
<rect x="442.7" y="198.2" width="1.41" height="1.22" fill="#1da8e0" opacity="0.57"/>
<rect x="438.7" y="204.7" width="1.33" height="1.15" fill="#1da9e0" opacity="0.58"/>
<rect x="441.0" y="204.3" width="0.97" height="1.34" fill="#20a5e3" opacity="0.43"/>
<rect x="440.2" y="204.2" width="1.49" height="1.07" fill="#1babde" opacity="0.58"/>
<rect x="441.6" y="203.2" width="1.32" height="1.12" fill="#1da8e0" opacity="0.37"/>
<rect x="440.2" y="211.4" width="1.20" height="1.01" fill="#0ab4d2" opacity="0.52"/>
<rect x="438.1" y="210.3" width="1.46" height="1.29" fill="#14b0d8" opacity="0.40"/>
<rect x="441.9" y="209.0" width="1.25" height="1.37" fill="#1fa6e2" opacity="0.60"/>
<rect x="442.3" y="210.0" width="1.11" height="0.94" fill="#0fb2d5" opacity="0.60"/>
<rect x="437.4" y="208.4" width="1.08" height="1.37" fill="#15afd9" opacity="0.35"/>
<rect x="434.2" y="216.1" width="1.29" height="0.99" fill="#02b7cb" opacity="0.60"/>
<rect x="435.1" y="211.6" width="0.94" height="1.08" fill="#02b7cb" opacity="0.70"/>
<rect x="441.4" y="213.7" width="1.37" height="1.32" fill="#0fb2d4" opacity="0.69"/>
<rect x="441.2" y="215.0" width="1.22" height="1.14" fill="#19addc" opacity="0.48"/>
<rect x="436.3" y="214.6" width="1.05" height="1.05" fill="#13b0d7" opacity="0.53"/>
<rect x="438.6" y="219.5" width="1.36" height="1.24" fill="#05b6ce" opacity="0.53"/>
<rect x="440.3" y="218.7" width="1.21" height="1.09" fill="#1aacdd" opacity="0.49"/>
<rect x="438.7" y="220.1" width="1.04" height="1.13" fill="#18addb" opacity="0.46"/>
<rect x="447.0" y="225.7" width="1.04" height="1.03" fill="#05b6ce" opacity="0.58"/>
<rect x="447.0" y="224.9" width="0.96" height="1.09" fill="#1fa5e2" opacity="0.69"/>
<rect x="446.3" y="224.7" width="1.48" height="1.29" fill="#1baade" opacity="0.47"/>
<rect x="449.7" y="230.3" width="1.08" height="1.14" fill="#08b5d0" opacity="0.66"/>
<rect x="446.5" y="231.0" width="1.17" height="1.11" fill="#19acdc" opacity="0.69"/>
<rect x="451.7" y="227.8" width="1.41" height="1.07" fill="#02b7cb" opacity="0.66"/>
<rect x="452.3" y="228.3" width="1.36" height="1.09" fill="#1ea7e1" opacity="0.67"/>
<rect x="447.2" y="233.3" width="1.14" height="1.09" fill="#20a5e3" opacity="0.48"/>
<rect x="447.1" y="235.8" width="1.31" height="1.21" fill="#1ca9df" opacity="0.36"/>
<rect x="446.7" y="235.2" width="1.41" height="1.34" fill="#1baade" opacity="0.56"/>
<rect x="447.2" y="234.7" width="0.94" height="1.07" fill="#0cb3d3" opacity="0.56"/>
<rect x="450.4" y="234.3" width="1.16" height="1.09" fill="#01b8ca" opacity="0.39"/>
<rect x="449.3" y="239.0" width="1.06" height="1.19" fill="#18aedb" opacity="0.36"/>
<rect x="448.6" y="241.7" width="1.20" height="1.37" fill="#1fa6e2" opacity="0.48"/>
<rect x="445.7" y="238.7" width="1.37" height="1.31" fill="#11b1d6" opacity="0.49"/>
<rect x="449.6" y="241.7" width="1.17" height="1.38" fill="#1ea7e1" opacity="0.51"/>
<rect x="449.1" y="242.0" width="0.97" height="1.09" fill="#16afd9" opacity="0.53"/>
<rect x="447.0" y="244.1" width="1.02" height="1.15" fill="#13b0d7" opacity="0.48"/>
<rect x="445.3" y="245.6" width="1.42" height="1.08" fill="#19addc" opacity="0.57"/>
<rect x="455.5" y="247.4" width="0.99" height="1.22" fill="#12b1d6" opacity="0.46"/>
<rect x="452.9" y="248.1" width="1.11" height="1.11" fill="#01b9c7" opacity="0.48"/>
<rect x="451.4" y="248.2" width="1.18" height="1.11" fill="#1baade" opacity="0.63"/>
<rect x="451.1" y="252.8" width="1.34" height="0.93" fill="#1caadf" opacity="0.69"/>
<rect x="446.1" y="252.4" width="1.03" height="1.00" fill="#0cb3d3" opacity="0.59"/>
<rect x="445.6" y="251.3" width="1.00" height="1.20" fill="#1da9e0" opacity="0.53"/>
<rect x="448.1" y="254.9" width="1.00" height="1.06" fill="#0ab4d1" opacity="0.54"/>
<rect x="448.3" y="255.2" width="1.25" height="1.02" fill="#15afd9" opacity="0.64"/>
<rect x="443.9" y="257.9" width="1.39" height="1.22" fill="#1ea7e1" opacity="0.56"/>
<rect x="447.4" y="256.4" width="1.48" height="1.25" fill="#1babde" opacity="0.65"/>
<rect x="445.1" y="261.2" width="1.17" height="1.30" fill="#09b4d1" opacity="0.54"/>
<rect x="445.5" y="260.6" width="1.44" height="1.08" fill="#20a5e2" opacity="0.47"/>
<rect x="450.1" y="257.8" width="1.01" height="1.05" fill="#1aabdd" opacity="0.67"/>
<rect x="446.0" y="265.4" width="1.17" height="1.29" fill="#1aabdd" opacity="0.67"/>
<rect x="444.0" y="264.3" width="1.45" height="1.17" fill="#0db3d4" opacity="0.65"/>
<rect x="443.1" y="262.2" width="1.19" height="1.28" fill="#15afd9" opacity="0.42"/>
<rect x="443.0" y="265.6" width="1.06" height="1.24" fill="#17aeda" opacity="0.43"/>
<rect x="446.4" y="269.1" width="1.21" height="1.15" fill="#20a5e2" opacity="0.61"/>
<rect x="444.1" y="268.1" width="1.12" height="1.26" fill="#0bb3d2" opacity="0.49"/>
<rect x="440.6" y="267.2" width="1.45" height="1.14" fill="#13b0d7" opacity="0.63"/>
<rect x="436.3" y="271.0" width="1.08" height="1.21" fill="#14b0d8" opacity="0.48"/>
<rect x="444.4" y="270.8" width="1.17" height="0.92" fill="#04b6cd" opacity="0.44"/>
<rect x="435.5" y="271.9" width="0.99" height="1.28" fill="#1aacdd" opacity="0.65"/>
<rect x="435.9" y="273.5" width="1.17" height="1.23" fill="#01b9c8" opacity="0.42"/>
<rect x="435.6" y="272.0" width="1.05" height="1.32" fill="#17aedb" opacity="0.40"/>
<rect x="440.3" y="272.6" width="1.03" height="1.14" fill="#12b1d6" opacity="0.50"/>
<rect x="441.1" y="274.0" width="0.94" height="1.27" fill="#10b2d5" opacity="0.54"/>
<rect x="436.6" y="274.1" width="1.10" height="1.25" fill="#1baade" opacity="0.55"/>
<rect x="451.8" y="178.8" width="1.32" height="0.99" fill="#19acdc" opacity="0.52"/>
<rect x="452.5" y="177.8" width="1.42" height="0.94" fill="#1ea7e1" opacity="0.33"/>
<rect x="451.5" y="181.6" width="1.19" height="1.09" fill="#13b0d7" opacity="0.52"/>
<rect x="453.5" y="181.6" width="0.92" height="1.07" fill="#21a4e3" opacity="0.51"/>
<rect x="451.1" y="189.7" width="1.16" height="1.35" fill="#1ca9df" opacity="0.39"/>
<rect x="453.4" y="186.2" width="1.21" height="1.12" fill="#1baade" opacity="0.53"/>
<rect x="449.7" y="188.7" width="1.43" height="1.11" fill="#17aeda" opacity="0.47"/>
<rect x="450.0" y="192.0" width="1.24" height="1.32" fill="#21a3e3" opacity="0.41"/>
<rect x="449.6" y="194.0" width="1.28" height="1.31" fill="#1babde" opacity="0.34"/>
<rect x="450.3" y="191.1" width="1.34" height="1.01" fill="#17aedb" opacity="0.50"/>
<rect x="446.8" y="194.6" width="1.11" height="0.98" fill="#16aeda" opacity="0.39"/>
<rect x="447.7" y="197.4" width="1.23" height="1.29" fill="#20a4e3" opacity="0.52"/>
<rect x="449.3" y="194.9" width="1.13" height="1.00" fill="#1ca9df" opacity="0.45"/>
<rect x="446.3" y="198.9" width="1.09" height="1.36" fill="#1ca9df" opacity="0.43"/>
<rect x="448.7" y="199.5" width="1.40" height="1.10" fill="#14b0d8" opacity="0.38"/>
<rect x="446.4" y="202.5" width="1.42" height="1.01" fill="#1baade" opacity="0.53"/>
<rect x="447.9" y="203.5" width="1.46" height="1.33" fill="#1fa6e1" opacity="0.47"/>
<rect x="446.6" y="206.5" width="1.45" height="1.06" fill="#19addc" opacity="0.51"/>
<rect x="445.2" y="206.5" width="1.33" height="0.93" fill="#1ca9e0" opacity="0.34"/>
<rect x="444.3" y="211.2" width="1.05" height="0.96" fill="#21a3e3" opacity="0.36"/>
<rect x="446.7" y="214.4" width="1.06" height="1.03" fill="#11b1d6" opacity="0.31"/>
<rect x="446.6" y="215.5" width="1.46" height="1.11" fill="#18addb" opacity="0.56"/>
<rect x="441.3" y="217.9" width="1.08" height="1.15" fill="#1fa5e2" opacity="0.43"/>
<path d="M446.6 177.6 L447.2 179.1 L447.4 180.5 L447.7 182.0 L447.9 183.3 L447.3 184.7 L447.6 186.0 L446.9 187.3 L446.0 188.7 L445.1 190.0 L444.8 191.2 L444.4 192.5 L444.2 193.8 L443.5 195.0 L442.6 196.3 L442.1 197.7 L440.9 199.0 L441.5 200.3 L441.8 201.7 L442.1 203.0 L441.4 204.0 L440.1 205.0 L439.7 206.0 L438.9 207.0 L438.7 208.2 L439.5 209.5 L439.6 210.8 L439.9 212.0 L439.2 213.2 L438.2 214.4 L438.2 215.6 L437.3 216.8 L436.7 218.0 L437.3 219.2 L437.4 220.3 L438.0 221.5" fill="none" stroke="#01b9c6" stroke-width="1.60" stroke-linecap="butt" stroke-linejoin="round" opacity="0.50"/>
<path d="M449.7 223.0 L450.3 224.3 L450.3 225.7 L451.0 227.0 L450.6 228.2 L450.6 229.5 L450.7 230.8 L450.7 232.0 L449.8 233.2 L449.4 234.4 L449.5 235.6 L448.9 236.8 L448.4 238.0 L448.3 239.2 L448.5 240.5 L448.6 241.8 L448.5 243.0 L448.7 244.3 L449.2 245.7 L449.5 247.0 L449.5 248.3 L450.1 249.7 L450.4 251.0 L449.5 252.0 L448.8 253.0 L447.7 254.0 L446.8 255.2 L445.4 256.5 L446.4 257.5 L447.2 258.5 L447.1 259.7 L446.7 260.8 L446.4 262.0 L445.5 263.3 L445.2 264.7 L444.6 266.0 L443.6 267.3 L442.7 268.7 L442.2 270.0 L441.5 270.9 L440.7 271.9 L439.8 272.8 L438.1 273.5 L436.7 274.2 L435.6 274.6 L434.4 275.0" fill="none" stroke="#01b9c6" stroke-width="1.60" stroke-linecap="butt" stroke-linejoin="round" opacity="0.50"/>
<rect x="445.8" y="178.1" width="1.01" height="1.25" fill="#25c2ad" opacity="0.90"/>
<rect x="447.0" y="178.2" width="1.15" height="0.93" fill="#30c5a1" opacity="0.73"/>
<rect x="445.8" y="177.4" width="1.14" height="0.92" fill="#54cc7d" opacity="0.68"/>
<rect x="446.8" y="178.3" width="1.25" height="1.15" fill="#27c2ac" opacity="0.70"/>
<rect x="447.4" y="181.2" width="1.49" height="1.33" fill="#1ec0b2" opacity="0.90"/>
<rect x="447.5" y="184.3" width="1.39" height="0.99" fill="#35c79b" opacity="0.69"/>
<rect x="446.2" y="182.7" width="1.33" height="1.18" fill="#43ca8a" opacity="0.82"/>
<rect x="448.3" y="183.9" width="1.11" height="1.35" fill="#2ec4a5" opacity="0.64"/>
<rect x="446.7" y="183.0" width="1.46" height="1.22" fill="#3bc992" opacity="0.93"/>
<rect x="444.9" y="187.0" width="0.98" height="1.21" fill="#46cb88" opacity="0.69"/>
<rect x="445.8" y="188.6" width="0.99" height="0.98" fill="#33c69e" opacity="0.72"/>
<rect x="445.8" y="189.5" width="1.28" height="1.00" fill="#55cc7c" opacity="0.66"/>
<rect x="446.8" y="185.7" width="0.93" height="1.14" fill="#2fc5a2" opacity="0.93"/>
<rect x="446.8" y="187.2" width="1.06" height="1.06" fill="#33c69e" opacity="0.74"/>
<rect x="442.9" y="191.8" width="1.27" height="1.38" fill="#24c1ae" opacity="0.72"/>
<rect x="445.1" y="189.4" width="1.40" height="1.24" fill="#54cc7c" opacity="0.89"/>
<rect x="443.9" y="192.4" width="0.93" height="1.10" fill="#28c2ab" opacity="0.82"/>
<rect x="444.1" y="189.7" width="1.15" height="0.97" fill="#3fca8e" opacity="0.88"/>
<rect x="443.6" y="192.0" width="1.26" height="1.32" fill="#56cc7b" opacity="0.87"/>
<rect x="445.6" y="189.4" width="1.45" height="1.30" fill="#4ecc82" opacity="0.69"/>
<rect x="441.3" y="195.7" width="1.36" height="1.20" fill="#2cc4a7" opacity="0.79"/>
<rect x="439.2" y="198.2" width="1.49" height="0.93" fill="#31c6a0" opacity="0.79"/>
<rect x="440.5" y="197.8" width="1.28" height="1.14" fill="#39c994" opacity="0.79"/>
<rect x="441.3" y="197.1" width="1.42" height="0.95" fill="#44cb89" opacity="0.61"/>
<rect x="441.3" y="197.3" width="1.06" height="1.10" fill="#26c2ad" opacity="0.85"/>
<rect x="440.3" y="201.3" width="1.37" height="1.36" fill="#27c2ac" opacity="0.78"/>
<rect x="441.4" y="199.8" width="1.38" height="1.00" fill="#36c799" opacity="0.87"/>
<rect x="441.4" y="202.2" width="1.46" height="1.00" fill="#49cb86" opacity="0.74"/>
<rect x="440.8" y="201.0" width="0.96" height="1.07" fill="#20c1b1" opacity="0.65"/>
<rect x="438.7" y="205.5" width="1.21" height="0.99" fill="#47cb87" opacity="0.89"/>
<rect x="440.1" y="203.7" width="1.39" height="1.03" fill="#12beb9" opacity="0.90"/>
<rect x="439.6" y="206.0" width="1.28" height="1.30" fill="#56cc7b" opacity="0.71"/>
<rect x="439.3" y="206.2" width="1.10" height="1.23" fill="#3cc991" opacity="0.90"/>
<rect x="439.3" y="204.7" width="1.00" height="1.32" fill="#4dcc82" opacity="0.68"/>
<rect x="439.2" y="209.4" width="1.37" height="1.27" fill="#2ac3a8" opacity="0.63"/>
<rect x="438.5" y="208.1" width="1.01" height="0.97" fill="#2dc4a6" opacity="0.91"/>
<rect x="437.5" y="206.8" width="1.35" height="0.96" fill="#3bc992" opacity="0.63"/>
<rect x="437.6" y="207.6" width="1.18" height="0.93" fill="#2cc4a7" opacity="0.68"/>
<rect x="437.5" y="210.6" width="1.37" height="1.16" fill="#3dca90" opacity="0.64"/>
<rect x="438.3" y="208.6" width="1.04" height="1.07" fill="#29c3aa" opacity="0.90"/>
<rect x="438.3" y="214.2" width="1.45" height="1.35" fill="#31c6a0" opacity="0.80"/>
<rect x="436.7" y="216.2" width="1.21" height="1.27" fill="#20c1b1" opacity="0.75"/>
<rect x="437.0" y="217.4" width="1.14" height="1.31" fill="#4dcc82" opacity="0.73"/>
<rect x="437.9" y="212.6" width="1.30" height="1.06" fill="#34c79c" opacity="0.70"/>
<rect x="436.9" y="214.1" width="1.44" height="1.34" fill="#51cc7f" opacity="0.77"/>
<rect x="437.5" y="217.4" width="1.42" height="1.11" fill="#57cc7a" opacity="0.61"/>
<rect x="438.0" y="216.8" width="1.14" height="1.30" fill="#25c2ae" opacity="0.86"/>
<rect x="437.2" y="219.1" width="0.97" height="1.37" fill="#25c2ad" opacity="0.73"/>
<rect x="438.0" y="219.0" width="1.43" height="1.35" fill="#39c994" opacity="0.73"/>
<rect x="437.3" y="217.9" width="1.18" height="1.37" fill="#2fc5a2" opacity="0.72"/>
<rect x="437.2" y="218.6" width="1.46" height="1.19" fill="#35c79a" opacity="0.75"/>
<rect x="448.8" y="224.2" width="1.24" height="1.02" fill="#16bfb7" opacity="0.66"/>
<rect x="449.6" y="224.1" width="1.43" height="1.03" fill="#3ac993" opacity="0.75"/>
<rect x="449.6" y="224.1" width="1.30" height="1.24" fill="#2bc3a8" opacity="0.92"/>
<rect x="450.1" y="225.5" width="0.96" height="1.17" fill="#35c79a" opacity="0.68"/>
<rect x="451.3" y="229.0" width="1.08" height="1.13" fill="#24c1af" opacity="0.67"/>
<rect x="450.6" y="227.6" width="1.18" height="1.25" fill="#29c3a9" opacity="0.88"/>
<rect x="449.7" y="229.5" width="1.03" height="1.37" fill="#36c799" opacity="0.79"/>
<rect x="449.5" y="229.2" width="1.11" height="1.03" fill="#3eca90" opacity="0.60"/>
<rect x="451.0" y="228.9" width="1.09" height="1.03" fill="#37c898" opacity="0.70"/>
<rect x="448.3" y="233.8" width="1.25" height="1.30" fill="#47cb87" opacity="0.73"/>
<rect x="449.4" y="236.9" width="1.23" height="1.10" fill="#3ac994" opacity="0.71"/>
<rect x="449.6" y="233.0" width="1.24" height="1.27" fill="#2fc5a3" opacity="0.61"/>
<rect x="448.5" y="235.6" width="1.07" height="1.23" fill="#3ac994" opacity="0.82"/>
<rect x="449.8" y="234.3" width="1.30" height="1.01" fill="#31c6a0" opacity="0.81"/>
<rect x="448.7" y="235.6" width="0.98" height="1.08" fill="#38c896" opacity="0.80"/>
<rect x="450.2" y="232.7" width="0.99" height="1.27" fill="#1dc0b3" opacity="0.63"/>
<rect x="447.6" y="240.4" width="1.08" height="1.26" fill="#36c898" opacity="0.80"/>
<rect x="449.3" y="239.1" width="1.47" height="0.93" fill="#28c3aa" opacity="0.71"/>
<rect x="446.5" y="237.9" width="1.40" height="1.06" fill="#13beb8" opacity="0.91"/>
<rect x="448.5" y="238.5" width="0.99" height="1.09" fill="#1bc0b4" opacity="0.66"/>
<rect x="447.2" y="238.5" width="1.22" height="1.28" fill="#38c896" opacity="0.72"/>
<rect x="448.3" y="245.7" width="1.19" height="1.07" fill="#1cc0b3" opacity="0.91"/>
<rect x="449.8" y="245.2" width="0.94" height="1.24" fill="#24c1ae" opacity="0.79"/>
<rect x="449.7" y="245.6" width="1.21" height="1.23" fill="#21c1b1" opacity="0.82"/>
<rect x="448.7" y="244.3" width="0.94" height="1.05" fill="#1bc0b4" opacity="0.65"/>
<rect x="448.3" y="244.2" width="1.38" height="0.96" fill="#34c79c" opacity="0.90"/>
<rect x="449.1" y="247.7" width="1.11" height="1.10" fill="#45cb89" opacity="0.72"/>
<rect x="448.6" y="250.7" width="1.04" height="1.17" fill="#44cb8a" opacity="0.64"/>
<rect x="449.5" y="249.9" width="0.98" height="1.36" fill="#1ac0b5" opacity="0.87"/>
<rect x="448.1" y="249.1" width="1.31" height="1.11" fill="#39c895" opacity="0.62"/>
<rect x="448.6" y="251.9" width="1.09" height="1.17" fill="#34c79b" opacity="0.85"/>
<rect x="448.7" y="251.0" width="1.31" height="1.12" fill="#9cc944" opacity="0.98"/>
<rect x="447.7" y="253.5" width="1.27" height="0.93" fill="#95ca49" opacity="0.83"/>
<rect x="448.3" y="252.5" width="1.08" height="0.93" fill="#95ca49" opacity="0.78"/>
<rect x="450.4" y="250.8" width="1.04" height="0.99" fill="#92ca4b" opacity="0.90"/>
<rect x="449.2" y="251.8" width="1.16" height="1.36" fill="#33c69d" opacity="0.83"/>
<rect x="445.9" y="256.3" width="1.34" height="0.94" fill="#78cc5f" opacity="0.85"/>
<rect x="446.7" y="254.3" width="1.21" height="1.29" fill="#3bc993" opacity="0.96"/>
<rect x="446.0" y="254.4" width="1.29" height="1.18" fill="#91ca4c" opacity="0.85"/>
<rect x="446.3" y="255.2" width="1.04" height="0.93" fill="#4ccb82" opacity="0.79"/>
<rect x="446.7" y="256.7" width="1.43" height="1.24" fill="#7ccc5c" opacity="0.93"/>
<rect x="445.6" y="256.8" width="1.04" height="1.18" fill="#6bcd69" opacity="0.93"/>
<rect x="444.7" y="256.6" width="1.48" height="0.97" fill="#40ca8d" opacity="0.73"/>
<rect x="446.5" y="260.7" width="1.37" height="1.16" fill="#67cd6c" opacity="0.98"/>
<rect x="445.4" y="260.2" width="1.36" height="1.18" fill="#3ac993" opacity="0.83"/>
<rect x="445.5" y="259.3" width="1.24" height="1.09" fill="#53cc7d" opacity="0.83"/>
<rect x="446.3" y="258.7" width="1.33" height="1.10" fill="#5acc77" opacity="0.88"/>
<rect x="446.0" y="258.9" width="0.93" height="1.32" fill="#97ca47" opacity="0.79"/>
<rect x="445.9" y="263.1" width="1.06" height="1.04" fill="#78cc5f" opacity="0.94"/>
<rect x="445.1" y="263.2" width="1.05" height="1.29" fill="#8ecb4f" opacity="0.96"/>
<rect x="444.0" y="262.1" width="1.18" height="0.99" fill="#36c899" opacity="0.92"/>
<rect x="444.5" y="262.0" width="1.30" height="1.14" fill="#91ca4c" opacity="0.98"/>
<rect x="445.0" y="263.8" width="1.06" height="1.35" fill="#7ccc5c" opacity="0.74"/>
<rect x="445.5" y="262.2" width="1.25" height="1.07" fill="#59cc78" opacity="0.94"/>
<rect x="441.5" y="268.8" width="1.11" height="1.20" fill="#39c895" opacity="0.82"/>
<rect x="443.4" y="268.1" width="1.12" height="0.94" fill="#3ac994" opacity="0.87"/>
<rect x="443.3" y="266.5" width="1.22" height="1.04" fill="#6acd6a" opacity="0.78"/>
<rect x="442.6" y="268.2" width="1.07" height="1.12" fill="#93ca4a" opacity="0.75"/>
<rect x="443.7" y="266.0" width="1.15" height="1.27" fill="#55cc7c" opacity="0.84"/>
<rect x="443.2" y="267.3" width="1.44" height="1.12" fill="#95ca49" opacity="0.78"/>
<rect x="439.9" y="270.7" width="1.00" height="1.33" fill="#50cc80" opacity="0.91"/>
<rect x="439.8" y="270.7" width="1.04" height="1.00" fill="#4dcc82" opacity="0.90"/>
<rect x="440.9" y="270.9" width="0.96" height="1.04" fill="#41ca8d" opacity="0.95"/>
<rect x="440.1" y="270.8" width="1.06" height="1.05" fill="#47cb87" opacity="0.80"/>
<rect x="439.6" y="272.0" width="1.30" height="0.97" fill="#35c79a" opacity="0.75"/>
<rect x="436.9" y="273.3" width="1.26" height="1.12" fill="#44ca8a" opacity="0.99"/>
<rect x="437.0" y="273.8" width="1.07" height="1.31" fill="#3ac994" opacity="0.90"/>
<rect x="438.2" y="273.1" width="1.09" height="0.97" fill="#3fca8e" opacity="0.94"/>
<rect x="434.6" y="273.9" width="0.97" height="1.37" fill="#35c79a" opacity="0.88"/>
<rect x="435.1" y="273.6" width="1.17" height="1.35" fill="#44cb89" opacity="0.75"/>
<rect x="434.5" y="273.8" width="1.42" height="0.97" fill="#3eca90" opacity="0.77"/>
<rect x="434.6" y="274.0" width="1.24" height="1.25" fill="#92ca4c" opacity="0.84"/>
<path d="M446.8 258.5 L446.7 259.7 L446.2 260.8 L445.9 262.0 L445.3 263.3 L445.0 264.7 L444.6 266.0 L443.6 267.3 L442.7 268.7 L442.1 270.0 L441.3 270.9 L440.2 271.9 L439.5 272.8 L438.4 273.5 L437.0 274.2 L435.6 274.6 L434.4 275.0" fill="none" stroke="#68cd6b" stroke-width="0.90" stroke-linecap="butt" stroke-linejoin="round" opacity="0.80"/>
<rect x="432.7" y="274.7" width="1.6" height="1.0" fill="#02bac5" opacity="0.47"/>
<rect x="433.0" y="275.8" width="1.6" height="1.0" fill="#1ec0b2" opacity="0.65"/>
<rect x="429.3" y="275.7" width="1.6" height="1.0" fill="#3eca8f" opacity="0.44"/>
<rect x="428.2" y="271.4" width="1.6" height="1.0" fill="#46cb88" opacity="0.81"/>
<rect x="436.8" y="273.4" width="1.6" height="1.0" fill="#3dc990" opacity="0.66"/>
<rect x="440.0" y="275.2" width="1.6" height="1.0" fill="#01b9c7" opacity="0.79"/>
<rect x="432.9" y="274.2" width="1.6" height="1.0" fill="#2cc4a6" opacity="0.45"/>
<rect x="432.6" y="272.2" width="1.6" height="1.0" fill="#3eca8f" opacity="0.80"/>
<rect x="434.4" y="275.2" width="1.6" height="1.0" fill="#3bc992" opacity="0.71"/>
<rect x="431.6" y="274.8" width="1.6" height="1.0" fill="#02bac3" opacity="0.77"/>
<rect x="423.6" y="275.4" width="1.6" height="1.0" fill="#18bfb6" opacity="0.54"/>
<rect x="424.5" y="276.2" width="1.6" height="1.0" fill="#48cb86" opacity="0.56"/>
<rect x="433.5" y="274.1" width="1.6" height="1.0" fill="#45cb88" opacity="0.74"/>
<rect x="429.8" y="275.7" width="1.6" height="1.0" fill="#0fbebb" opacity="0.80"/>
<rect x="437.9" y="274.5" width="1.6" height="1.0" fill="#01b8c8" opacity="0.49"/>
<rect x="437.9" y="276.3" width="1.6" height="1.0" fill="#3fca8e" opacity="0.64"/>
<rect x="427.8" y="275.5" width="1.6" height="1.0" fill="#21c1b0" opacity="0.65"/>
<rect x="449.3" y="273.5" width="1.6" height="1.0" fill="#01b9c7" opacity="0.46"/>
<rect x="431.3" y="273.3" width="1.6" height="1.0" fill="#3fca8e" opacity="0.71"/>
<rect x="438.1" y="276.2" width="1.6" height="1.0" fill="#04b6cd" opacity="0.51"/>
<rect x="436.7" y="275.1" width="1.6" height="1.0" fill="#2cc4a7" opacity="0.75"/>
<rect x="440.8" y="274.0" width="1.6" height="1.0" fill="#4acb84" opacity="0.74"/>
<rect x="429.6" y="274.8" width="1.6" height="1.0" fill="#0fbeba" opacity="0.83"/>
<rect x="438.2" y="272.8" width="1.6" height="1.0" fill="#13beb8" opacity="0.73"/>
<rect x="423.5" y="276.1" width="1.6" height="1.0" fill="#1bc0b4" opacity="0.80"/>
<rect x="432.9" y="274.0" width="1.6" height="1.0" fill="#2ec4a4" opacity="0.76"/>
<rect x="418.5" y="275.3" width="1.6" height="1.0" fill="#05b6cd" opacity="0.80"/>
<rect x="434.2" y="273.7" width="1.6" height="1.0" fill="#44cb8a" opacity="0.47"/>
<rect x="430.2" y="273.1" width="1.6" height="1.0" fill="#41ca8c" opacity="0.57"/>
<rect x="446.1" y="276.4" width="1.6" height="1.0" fill="#02b7cb" opacity="0.46"/>
<rect x="444.1" y="275.0" width="1.6" height="1.0" fill="#16bfb7" opacity="0.52"/>
<rect x="433.3" y="276.2" width="1.6" height="1.0" fill="#4bcb83" opacity="0.78"/>
<rect x="428.9" y="275.5" width="1.6" height="1.0" fill="#14beb8" opacity="0.67"/>
<rect x="425.1" y="270.9" width="1.6" height="1.0" fill="#52cc7e" opacity="0.73"/>
<rect x="437.3" y="275.6" width="1.6" height="1.0" fill="#01bac5" opacity="0.56"/>
<rect x="441.1" y="274.6" width="1.6" height="1.0" fill="#56cc7b" opacity="0.78"/>
<rect x="440.8" y="276.0" width="1.6" height="1.0" fill="#08bcbe" opacity="0.41"/>
<rect x="435.6" y="275.7" width="1.6" height="1.0" fill="#2cc4a7" opacity="0.54"/>
<rect x="431.9" y="273.7" width="1.6" height="1.0" fill="#30c5a1" opacity="0.53"/>
<rect x="435.0" y="272.7" width="1.6" height="1.0" fill="#37c897" opacity="0.61"/>
</g></g>
<text class="t" text-anchor="end" transform="translate(376.70 181.80) scale(0.88 1)">0</text>
<text class="t" text-anchor="end" transform="translate(376.70 212.30) scale(0.88 1)">50</text>
<text class="t" text-anchor="end" transform="translate(376.70 242.90) scale(0.88 1)">100</text>
<text class="t" text-anchor="end" transform="translate(376.70 273.50) scale(0.88 1)">150</text>
<text class="t" text-anchor="middle" transform="translate(402.00 288.45) scale(0.88 1)">−20</text>
<text class="t" text-anchor="middle" transform="translate(432.40 288.45) scale(0.88 1)">0</text>
<text class="t" text-anchor="middle" transform="translate(463.00 288.45) scale(0.88 1)">20</text>
<text class="cbt" text-anchor="start" transform="translate(498.00 189.55) scale(0.88 1)">50</text>
<text class="cbt" text-anchor="start" transform="translate(498.00 218.75) scale(0.88 1)">40</text>
<text class="cbt" text-anchor="start" transform="translate(498.00 247.75) scale(0.88 1)">30</text>
<text class="cbt" text-anchor="start" transform="translate(498.00 276.75) scale(0.88 1)">20</text>
<text class="l" text-anchor="middle" letter-spacing="0.00" transform="translate(359.10 227.40) rotate(-90)">Time(s)</text>
<text x="432.40" y="299.90" class="l" text-anchor="middle" letter-spacing="0.07">Velosity(m/s)</text>
<text x="429.00" y="318.30" class="c" text-anchor="middle">(<tspan font-weight="bold">f</tspan>)</text>
</svg></body></html>
